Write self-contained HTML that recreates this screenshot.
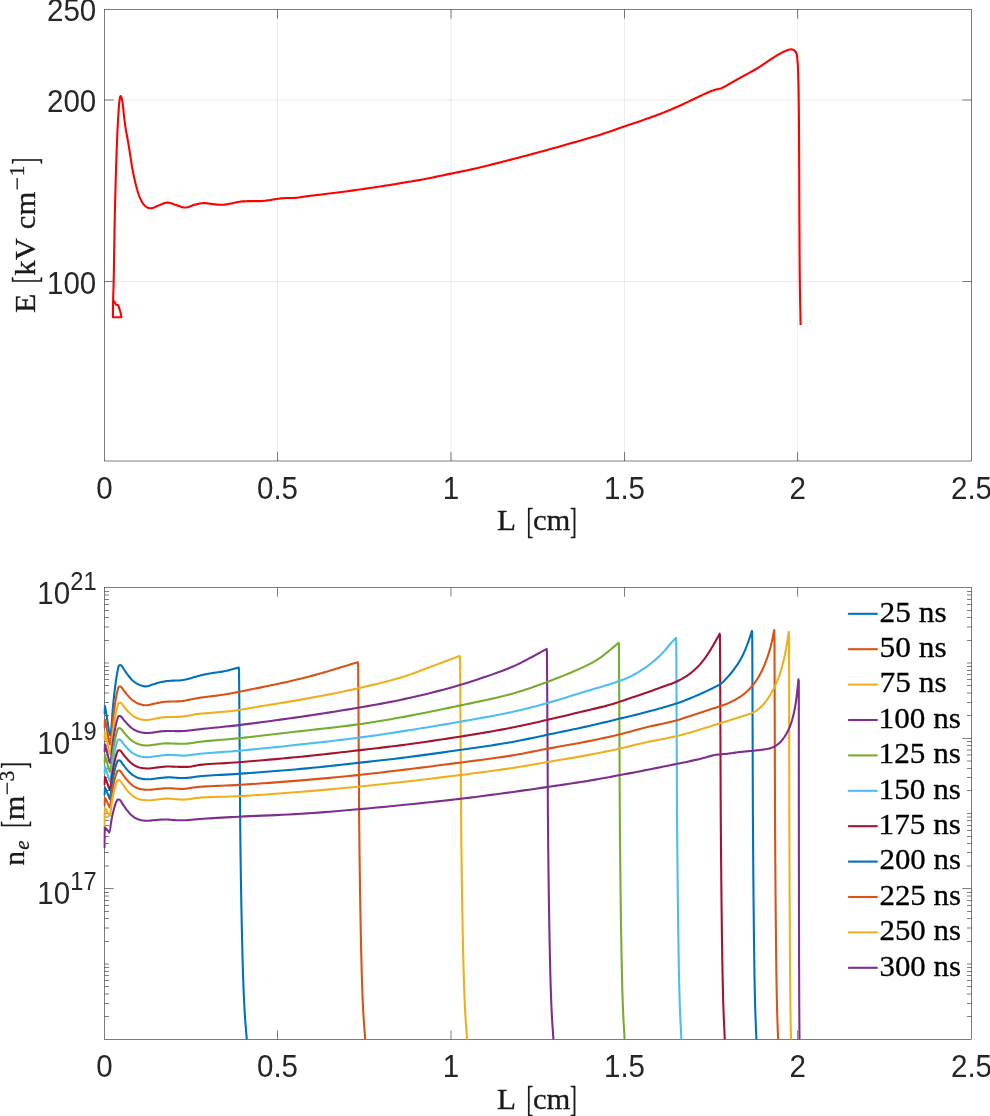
<!DOCTYPE html>
<html lang="en"><head><meta charset="utf-8"><title>Figure</title>
<style>html,body{margin:0;padding:0;background:#fff}svg{display:block}</style>
</head><body>
<svg width="990" height="1116" viewBox="0 0 990 1116">
<rect width="990" height="1116" fill="#fff"/>
<defs><clipPath id="cb"><rect x="103.30" y="587.50" width="869.40" height="452.30"/></clipPath></defs>
<g stroke="#262626" stroke-opacity="0.15" stroke-width="0.60" fill="none">
<line x1="277.50" y1="9.50" x2="277.50" y2="461.00"/>
<line x1="451.00" y1="9.50" x2="451.00" y2="461.00"/>
<line x1="624.50" y1="9.50" x2="624.50" y2="461.00"/>
<line x1="797.60" y1="9.50" x2="797.60" y2="461.00"/>
<line x1="104.50" y1="281.50" x2="971.50" y2="281.50"/>
<line x1="104.50" y1="100.00" x2="971.50" y2="100.00"/>
</g>
<g stroke="#262626" stroke-width="0.60" fill="none">
<rect x="104.50" y="9.50" width="867.00" height="451.50"/>
<rect x="104.50" y="587.50" width="867.00" height="452.00"/>
<path d="M277.50,461.00v-9.10M277.50,9.50v9.10"/>
<path d="M277.50,1039.50v-9.10M277.50,587.50v9.10"/>
<path d="M451.00,461.00v-9.10M451.00,9.50v9.10"/>
<path d="M451.00,1039.50v-9.10M451.00,587.50v9.10"/>
<path d="M624.50,461.00v-9.10M624.50,9.50v9.10"/>
<path d="M624.50,1039.50v-9.10M624.50,587.50v9.10"/>
<path d="M797.60,461.00v-9.10M797.60,9.50v9.10"/>
<path d="M797.60,1039.50v-9.10M797.60,587.50v9.10"/>
<path d="M104.50,281.50h9.10M971.50,281.50h-9.10"/>
<path d="M104.50,100.00h9.10M971.50,100.00h-9.10"/>
<path d="M104.50,1016.50h4.50M971.50,1016.50h-4.50"/>
<path d="M104.50,1003.50h4.50M971.50,1003.50h-4.50"/>
<path d="M104.50,994.00h4.50M971.50,994.00h-4.50"/>
<path d="M104.50,986.50h4.50M971.50,986.50h-4.50"/>
<path d="M104.50,980.50h4.50M971.50,980.50h-4.50"/>
<path d="M104.50,975.50h4.50M971.50,975.50h-4.50"/>
<path d="M104.50,971.50h4.50M971.50,971.50h-4.50"/>
<path d="M104.50,967.50h4.50M971.50,967.50h-4.50"/>
<path d="M104.50,964.00h4.50M971.50,964.00h-4.50"/>
<path d="M104.50,941.50h4.50M971.50,941.50h-4.50"/>
<path d="M104.50,928.00h4.50M971.50,928.00h-4.50"/>
<path d="M104.50,918.50h4.50M971.50,918.50h-4.50"/>
<path d="M104.50,911.50h4.50M971.50,911.50h-4.50"/>
<path d="M104.50,905.50h4.50M971.50,905.50h-4.50"/>
<path d="M104.50,900.50h4.50M971.50,900.50h-4.50"/>
<path d="M104.50,896.00h4.50M971.50,896.00h-4.50"/>
<path d="M104.50,892.50h4.50M971.50,892.50h-4.50"/>
<path d="M104.50,888.50h9.10M971.50,888.50h-9.10"/>
<path d="M104.50,866.00h4.50M971.50,866.00h-4.50"/>
<path d="M104.50,852.50h4.50M971.50,852.50h-4.50"/>
<path d="M104.50,843.50h4.50M971.50,843.50h-4.50"/>
<path d="M104.50,836.50h4.50M971.50,836.50h-4.50"/>
<path d="M104.50,830.50h4.50M971.50,830.50h-4.50"/>
<path d="M104.50,825.50h4.50M971.50,825.50h-4.50"/>
<path d="M104.50,820.50h4.50M971.50,820.50h-4.50"/>
<path d="M104.50,817.00h4.50M971.50,817.00h-4.50"/>
<path d="M104.50,813.50h4.50M971.50,813.50h-4.50"/>
<path d="M104.50,790.50h4.50M971.50,790.50h-4.50"/>
<path d="M104.50,777.50h4.50M971.50,777.50h-4.50"/>
<path d="M104.50,768.50h4.50M971.50,768.50h-4.50"/>
<path d="M104.50,761.00h4.50M971.50,761.00h-4.50"/>
<path d="M104.50,755.00h4.50M971.50,755.00h-4.50"/>
<path d="M104.50,750.00h4.50M971.50,750.00h-4.50"/>
<path d="M104.50,745.50h4.50M971.50,745.50h-4.50"/>
<path d="M104.50,741.50h4.50M971.50,741.50h-4.50"/>
<path d="M104.50,738.50h9.10M971.50,738.50h-9.10"/>
<path d="M104.50,715.50h4.50M971.50,715.50h-4.50"/>
<path d="M104.50,702.50h4.50M971.50,702.50h-4.50"/>
<path d="M104.50,693.00h4.50M971.50,693.00h-4.50"/>
<path d="M104.50,685.50h4.50M971.50,685.50h-4.50"/>
<path d="M104.50,679.50h4.50M971.50,679.50h-4.50"/>
<path d="M104.50,674.50h4.50M971.50,674.50h-4.50"/>
<path d="M104.50,670.50h4.50M971.50,670.50h-4.50"/>
<path d="M104.50,666.50h4.50M971.50,666.50h-4.50"/>
<path d="M104.50,663.00h4.50M971.50,663.00h-4.50"/>
<path d="M104.50,640.50h4.50M971.50,640.50h-4.50"/>
<path d="M104.50,627.00h4.50M971.50,627.00h-4.50"/>
<path d="M104.50,617.50h4.50M971.50,617.50h-4.50"/>
<path d="M104.50,610.50h4.50M971.50,610.50h-4.50"/>
<path d="M104.50,604.50h4.50M971.50,604.50h-4.50"/>
<path d="M104.50,599.50h4.50M971.50,599.50h-4.50"/>
<path d="M104.50,595.00h4.50M971.50,595.00h-4.50"/>
<path d="M104.50,591.50h4.50M971.50,591.50h-4.50"/>
</g>
<path d="M112.90,317.20 L121.50,317.20 L120.60,312.70 L119.40,308.80 L118.20,305.20 L115.80,304.40 L114.40,301.50 L113.10,301.70 L112.90,317.20 L112.92,315.66 L112.94,314.14 L112.95,312.63 L112.97,311.12 L112.98,309.61 L113.00,308.09 L113.02,306.54 L113.04,304.97 L113.07,303.36 L113.10,301.70 L113.14,299.73 L113.19,297.78 L113.25,295.82 L113.31,293.83 L113.37,291.79 L113.44,289.68 L113.51,287.47 L113.57,285.13 L113.64,282.65 L113.70,280.00 L113.80,274.98 L113.90,269.40 L114.00,263.36 L114.09,256.95 L114.19,250.26 L114.30,243.39 L114.41,236.44 L114.53,229.49 L114.66,222.65 L114.80,216.00 L114.96,209.09 L115.14,201.96 L115.32,194.70 L115.52,187.38 L115.72,180.09 L115.93,172.91 L116.15,165.93 L116.36,159.23 L116.58,152.89 L116.80,147.00 L116.95,143.15 L117.10,139.41 L117.26,135.77 L117.41,132.26 L117.57,128.87 L117.73,125.62 L117.89,122.49 L118.06,119.51 L118.23,116.68 L118.40,114.00 L118.51,112.32 L118.62,110.68 L118.72,109.09 L118.83,107.56 L118.94,106.09 L119.05,104.70 L119.17,103.38 L119.30,102.16 L119.45,101.03 L119.60,100.00 L119.69,99.46 L119.78,98.92 L119.87,98.37 L119.96,97.85 L120.06,97.36 L120.16,96.93 L120.26,96.56 L120.37,96.27 L120.48,96.08 L120.60,96.00 L120.68,96.02 L120.77,96.09 L120.86,96.20 L120.96,96.35 L121.05,96.52 L121.15,96.72 L121.24,96.94 L121.33,97.16 L121.42,97.38 L121.50,97.60 L121.62,97.95 L121.74,98.33 L121.84,98.73 L121.94,99.15 L122.03,99.61 L122.12,100.09 L122.21,100.61 L122.30,101.17 L122.40,101.76 L122.50,102.40 L122.73,103.97 L122.96,105.82 L123.19,107.91 L123.43,110.17 L123.68,112.57 L123.94,115.05 L124.21,117.56 L124.49,120.06 L124.79,122.49 L125.10,124.80 L125.44,127.05 L125.80,129.30 L126.18,131.55 L126.58,133.80 L126.99,136.05 L127.40,138.30 L127.81,140.55 L128.22,142.80 L128.62,145.05 L129.00,147.30 L129.37,149.55 L129.72,151.82 L130.07,154.10 L130.42,156.39 L130.76,158.67 L131.11,160.93 L131.46,163.17 L131.83,165.39 L132.21,167.57 L132.60,169.70 L132.97,171.60 L133.34,173.49 L133.72,175.36 L134.11,177.22 L134.50,179.06 L134.91,180.86 L135.32,182.62 L135.74,184.33 L136.16,186.00 L136.60,187.60 L136.95,188.85 L137.30,190.07 L137.65,191.27 L138.00,192.44 L138.36,193.58 L138.74,194.69 L139.12,195.77 L139.53,196.81 L139.95,197.82 L140.40,198.80 L140.78,199.59 L141.17,200.37 L141.57,201.13 L141.98,201.87 L142.40,202.59 L142.83,203.27 L143.29,203.92 L143.77,204.53 L144.27,205.09 L144.80,205.60 L145.29,206.01 L145.80,206.41 L146.32,206.78 L146.87,207.12 L147.43,207.43 L148.00,207.70 L148.59,207.93 L149.18,208.11 L149.79,208.23 L150.40,208.30 L151.13,208.28 L151.87,208.16 L152.64,207.95 L153.43,207.68 L154.22,207.35 L155.03,206.99 L155.84,206.62 L156.66,206.25 L157.48,205.90 L158.30,205.60 L159.18,205.28 L160.06,204.92 L160.96,204.53 L161.86,204.14 L162.76,203.76 L163.67,203.41 L164.58,203.09 L165.49,202.85 L166.40,202.68 L167.30,202.60 L168.19,202.63 L169.08,202.75 L169.96,202.96 L170.85,203.22 L171.74,203.52 L172.63,203.85 L173.52,204.19 L174.41,204.52 L175.30,204.83 L176.20,205.10 L177.11,205.37 L178.02,205.67 L178.94,205.99 L179.86,206.31 L180.77,206.63 L181.69,206.91 L182.62,207.16 L183.54,207.35 L184.47,207.47 L185.40,207.50 L186.37,207.43 L187.35,207.25 L188.33,206.99 L189.32,206.67 L190.31,206.31 L191.30,205.93 L192.28,205.54 L193.26,205.18 L194.23,204.86 L195.20,204.60 L196.09,204.39 L196.98,204.19 L197.86,203.99 L198.74,203.80 L199.62,203.62 L200.49,203.46 L201.37,203.33 L202.24,203.22 L203.12,203.14 L204.00,203.10 L204.88,203.10 L205.76,203.15 L206.64,203.23 L207.51,203.34 L208.39,203.46 L209.27,203.60 L210.15,203.74 L211.04,203.88 L211.92,204.00 L212.80,204.10 L213.69,204.19 L214.58,204.29 L215.47,204.39 L216.36,204.49 L217.25,204.59 L218.14,204.67 L219.03,204.74 L219.92,204.79 L220.81,204.81 L221.70,204.80 L222.58,204.76 L223.46,204.69 L224.33,204.60 L225.20,204.49 L226.07,204.36 L226.94,204.22 L227.82,204.07 L228.71,203.91 L229.60,203.75 L230.50,203.60 L231.48,203.42 L232.48,203.22 L233.48,203.01 L234.49,202.78 L235.50,202.55 L236.52,202.33 L237.54,202.11 L238.56,201.92 L239.58,201.74 L240.60,201.60 L241.61,201.49 L242.61,201.40 L243.62,201.33 L244.63,201.27 L245.64,201.23 L246.66,201.19 L247.67,201.17 L248.68,201.14 L249.69,201.12 L250.70,201.10 L251.72,201.08 L252.74,201.08 L253.78,201.09 L254.81,201.11 L255.84,201.13 L256.86,201.15 L257.88,201.16 L258.87,201.15 L259.85,201.14 L260.80,201.10 L261.60,201.05 L262.38,201.00 L263.14,200.93 L263.88,200.86 L264.62,200.78 L265.36,200.69 L266.10,200.60 L266.85,200.51 L267.62,200.40 L268.40,200.30 L269.30,200.17 L270.21,200.03 L271.14,199.88 L272.08,199.71 L273.02,199.55 L273.97,199.38 L274.92,199.22 L275.86,199.07 L276.79,198.93 L277.70,198.80 L278.54,198.69 L279.37,198.59 L280.19,198.50 L281.01,198.41 L281.82,198.33 L282.64,198.25 L283.46,198.18 L284.29,198.11 L285.14,198.05 L286.00,198.00 L286.98,197.96 L287.97,197.93 L288.98,197.93 L290.01,197.93 L291.04,197.94 L292.08,197.94 L293.11,197.93 L294.15,197.91 L295.18,197.87 L296.20,197.80 L297.21,197.70 L298.19,197.58 L299.17,197.44 L300.15,197.29 L301.13,197.13 L302.12,196.96 L303.12,196.79 L304.15,196.62 L305.21,196.45 L306.30,196.30 L307.68,196.12 L309.09,195.94 L310.54,195.77 L312.02,195.59 L313.52,195.42 L315.06,195.24 L316.61,195.06 L318.19,194.88 L319.79,194.69 L321.40,194.50 L323.30,194.27 L325.25,194.03 L327.25,193.79 L329.27,193.55 L331.32,193.30 L333.38,193.04 L335.45,192.79 L337.51,192.53 L339.57,192.26 L341.60,192.00 L343.62,191.73 L345.64,191.46 L347.66,191.19 L349.68,190.91 L351.70,190.63 L353.72,190.35 L355.74,190.06 L357.76,189.78 L359.78,189.49 L361.80,189.20 L363.82,188.91 L365.84,188.62 L367.86,188.32 L369.88,188.03 L371.90,187.73 L373.92,187.43 L375.94,187.13 L377.96,186.82 L379.98,186.51 L382.00,186.20 L384.02,185.88 L386.02,185.56 L388.02,185.24 L390.02,184.92 L392.03,184.59 L394.03,184.26 L396.05,183.93 L398.08,183.59 L400.13,183.25 L402.20,182.90 L404.42,182.53 L406.65,182.16 L408.89,181.79 L411.15,181.42 L413.43,181.04 L415.71,180.66 L418.01,180.26 L420.33,179.86 L422.66,179.44 L425.00,179.00 L427.55,178.51 L430.16,177.99 L432.80,177.45 L435.46,176.89 L438.13,176.33 L440.79,175.76 L443.42,175.20 L446.01,174.65 L448.54,174.11 L451.00,173.60 L453.05,173.18 L455.04,172.78 L456.98,172.39 L458.88,172.01 L460.77,171.64 L462.66,171.26 L464.56,170.87 L466.49,170.47 L468.46,170.05 L470.50,169.60 L472.90,169.06 L475.36,168.49 L477.86,167.90 L480.39,167.30 L482.96,166.68 L485.53,166.05 L488.12,165.41 L490.70,164.77 L493.26,164.13 L495.80,163.50 L498.32,162.87 L500.85,162.23 L503.37,161.59 L505.89,160.94 L508.41,160.29 L510.92,159.64 L513.44,158.98 L515.96,158.32 L518.48,157.66 L521.00,157.00 L523.53,156.33 L526.06,155.66 L528.59,154.99 L531.12,154.31 L533.65,153.64 L536.19,152.96 L538.72,152.27 L541.25,151.58 L543.77,150.89 L546.30,150.20 L548.82,149.50 L551.35,148.80 L553.87,148.10 L556.39,147.39 L558.90,146.68 L561.42,145.97 L563.94,145.25 L566.46,144.54 L568.98,143.82 L571.50,143.10 L574.02,142.38 L576.54,141.68 L579.06,140.97 L581.57,140.27 L584.09,139.56 L586.61,138.84 L589.14,138.11 L591.68,137.36 L594.23,136.59 L596.80,135.80 L599.54,134.93 L602.32,134.02 L605.12,133.08 L607.93,132.13 L610.75,131.16 L613.56,130.18 L616.36,129.21 L619.12,128.25 L621.83,127.31 L624.50,126.40 L626.88,125.59 L629.25,124.79 L631.60,124.00 L633.92,123.21 L636.23,122.43 L638.50,121.66 L640.75,120.89 L642.97,120.13 L645.15,119.36 L647.30,118.60 L649.18,117.92 L651.06,117.25 L652.91,116.57 L654.75,115.90 L656.55,115.23 L658.33,114.57 L660.07,113.91 L661.76,113.26 L663.41,112.63 L665.00,112.00 L666.22,111.51 L667.38,111.05 L668.50,110.59 L669.58,110.15 L670.65,109.70 L671.71,109.25 L672.78,108.79 L673.88,108.32 L675.01,107.82 L676.20,107.30 L677.70,106.63 L679.24,105.93 L680.82,105.20 L682.44,104.45 L684.07,103.68 L685.72,102.90 L687.38,102.12 L689.03,101.34 L690.68,100.56 L692.30,99.80 L693.95,99.02 L695.65,98.21 L697.38,97.38 L699.12,96.54 L700.84,95.72 L702.53,94.91 L704.16,94.14 L705.71,93.43 L707.17,92.77 L708.50,92.20 L709.26,91.88 L709.97,91.59 L710.65,91.32 L711.29,91.07 L711.92,90.84 L712.53,90.62 L713.13,90.41 L713.74,90.20 L714.36,90.00 L715.00,89.80 L715.63,89.62 L716.25,89.47 L716.87,89.34 L717.49,89.22 L718.11,89.10 L718.74,88.98 L719.37,88.83 L720.03,88.66 L720.70,88.45 L721.40,88.20 L722.42,87.77 L723.48,87.26 L724.59,86.68 L725.72,86.06 L726.88,85.39 L728.05,84.71 L729.23,84.01 L730.40,83.32 L731.56,82.64 L732.70,82.00 L733.83,81.38 L734.95,80.75 L736.07,80.13 L737.18,79.51 L738.30,78.88 L739.42,78.25 L740.55,77.62 L741.69,76.99 L742.84,76.35 L744.00,75.70 L745.26,75.00 L746.55,74.31 L747.84,73.61 L749.15,72.91 L750.47,72.20 L751.78,71.49 L753.10,70.76 L754.41,70.02 L755.71,69.27 L757.00,68.50 L758.31,67.68 L759.63,66.83 L760.95,65.96 L762.27,65.07 L763.58,64.17 L764.88,63.28 L766.17,62.39 L767.44,61.53 L768.68,60.70 L769.90,59.90 L770.93,59.24 L771.95,58.58 L772.96,57.94 L773.95,57.30 L774.94,56.68 L775.90,56.08 L776.86,55.50 L777.79,54.94 L778.71,54.40 L779.60,53.90 L780.30,53.52 L780.98,53.14 L781.65,52.78 L782.32,52.43 L782.97,52.10 L783.61,51.78 L784.24,51.48 L784.87,51.20 L785.49,50.94 L786.10,50.70 L786.61,50.51 L787.11,50.32 L787.61,50.14 L788.10,49.97 L788.59,49.82 L789.07,49.68 L789.55,49.57 L790.01,49.48 L790.46,49.42 L790.90,49.40 L791.25,49.40 L791.60,49.42 L791.94,49.45 L792.28,49.50 L792.61,49.57 L792.93,49.65 L793.24,49.76 L793.54,49.88 L793.83,50.03 L794.10,50.20 L794.39,50.41 L794.66,50.65 L794.92,50.91 L795.17,51.20 L795.40,51.51 L795.63,51.85 L795.84,52.21 L796.04,52.58 L796.22,52.98 L796.40,53.40 L796.63,54.08 L796.82,54.82 L796.98,55.63 L797.10,56.48 L797.21,57.38 L797.29,58.31 L797.37,59.28 L797.44,60.27 L797.52,61.28 L797.60,62.30 L797.71,63.71 L797.81,65.20 L797.90,66.74 L797.97,68.33 L798.04,69.96 L798.09,71.63 L798.15,73.33 L798.20,75.05 L798.25,76.77 L798.30,78.50 L798.36,80.47 L798.41,82.46 L798.46,84.48 L798.50,86.52 L798.53,88.59 L798.57,90.69 L798.60,92.83 L798.64,95.01 L798.67,97.23 L798.70,99.50 L798.74,102.22 L798.77,104.87 L798.80,107.51 L798.83,110.18 L798.86,112.95 L798.89,115.87 L798.91,118.97 L798.94,122.33 L798.97,125.99 L799.00,130.00 L799.07,140.80 L799.13,154.14 L799.20,169.42 L799.27,186.03 L799.34,203.38 L799.41,220.86 L799.49,237.87 L799.58,253.79 L799.68,268.04 L799.80,280.00 L799.87,285.57 L799.94,290.68 L800.02,295.43 L800.10,299.89 L800.18,304.14 L800.27,308.26 L800.35,312.33 L800.44,316.42 L800.52,320.62 L800.60,325.00" fill="none" stroke="#ff0000" stroke-width="2.1" stroke-linejoin="round" stroke-linecap="butt"/>
<g clip-path="url(#cb)" fill="none" stroke-width="2.1" stroke-linejoin="round">
<path d="M104.50,714.00 L104.60,712.00 L104.90,706.00 L105.01,706.58 L105.12,707.14 L105.23,707.70 L105.34,708.26 L105.44,708.82 L105.55,709.39 L105.66,709.97 L105.77,710.57 L105.89,711.19 L106.00,711.84 L106.15,712.75 L106.31,713.70 L106.46,714.70 L106.62,715.72 L106.78,716.77 L106.94,717.84 L107.11,718.90 L107.27,719.97 L107.44,721.03 L107.60,722.06 L107.76,723.11 L107.93,724.21 L108.09,725.33 L108.25,726.45 L108.42,727.57 L108.59,728.65 L108.76,729.68 L108.93,730.64 L109.11,731.51 L109.30,732.28 L109.41,732.68 L109.52,733.08 L109.63,733.49 L109.75,733.88 L109.87,734.24 L109.98,734.56 L110.09,734.83 L110.20,735.03 L110.30,735.16 L110.40,735.20 L110.53,735.07 L110.65,734.72 L110.76,734.20 L110.86,733.53 L110.95,732.74 L111.04,731.87 L111.12,730.94 L111.21,730.00 L111.29,729.07 L111.38,728.19 L111.51,726.82 L111.63,725.34 L111.75,723.76 L111.86,722.10 L111.97,720.38 L112.08,718.63 L112.19,716.87 L112.30,715.11 L112.42,713.39 L112.56,711.72 L112.69,710.09 L112.84,708.46 L112.98,706.83 L113.13,705.20 L113.29,703.58 L113.44,701.95 L113.61,700.33 L113.77,698.70 L113.95,697.08 L114.12,695.45 L114.31,693.80 L114.50,692.11 L114.70,690.41 L114.91,688.69 L115.12,686.99 L115.33,685.31 L115.54,683.67 L115.76,682.09 L115.97,680.56 L116.18,679.12 L116.34,678.08 L116.50,677.05 L116.66,676.06 L116.82,675.08 L116.98,674.14 L117.15,673.22 L117.31,672.34 L117.47,671.50 L117.64,670.70 L117.80,669.94 L117.90,669.43 L118.00,668.93 L118.09,668.43 L118.18,667.94 L118.27,667.48 L118.37,667.05 L118.48,666.65 L118.61,666.29 L118.76,665.98 L118.93,665.73 L119.03,665.61 L119.15,665.50 L119.27,665.41 L119.40,665.33 L119.53,665.26 L119.67,665.21 L119.80,665.16 L119.94,665.13 L120.07,665.11 L120.20,665.10 L120.33,665.10 L120.46,665.12 L120.59,665.15 L120.73,665.19 L120.86,665.24 L120.99,665.31 L121.12,665.38 L121.25,665.46 L121.38,665.54 L121.50,665.63 L121.65,665.77 L121.80,665.92 L121.95,666.10 L122.09,666.29 L122.22,666.49 L122.36,666.69 L122.49,666.91 L122.63,667.13 L122.76,667.34 L122.90,667.55 L123.05,667.78 L123.19,668.00 L123.33,668.23 L123.46,668.46 L123.60,668.69 L123.74,668.93 L123.89,669.18 L124.05,669.44 L124.22,669.71 L124.40,670.00 L124.72,670.48 L125.08,671.01 L125.46,671.58 L125.87,672.17 L126.30,672.78 L126.74,673.39 L127.18,674.01 L127.63,674.61 L128.07,675.20 L128.50,675.75 L128.90,676.25 L129.30,676.75 L129.70,677.25 L130.10,677.74 L130.51,678.23 L130.92,678.70 L131.33,679.16 L131.75,679.60 L132.17,680.03 L132.60,680.44 L132.99,680.79 L133.37,681.12 L133.77,681.45 L134.16,681.76 L134.56,682.06 L134.96,682.36 L135.37,682.64 L135.77,682.91 L136.19,683.17 L136.60,683.42 L136.99,683.65 L137.39,683.86 L137.79,684.07 L138.19,684.27 L138.59,684.45 L139.00,684.63 L139.41,684.80 L139.83,684.97 L140.26,685.12 L140.70,685.27 L141.19,685.43 L141.69,685.60 L142.19,685.76 L142.70,685.92 L143.22,686.06 L143.75,686.19 L144.30,686.29 L144.85,686.36 L145.42,686.40 L146.00,686.40 L146.77,686.33 L147.57,686.18 L148.39,685.97 L149.23,685.71 L150.09,685.41 L150.96,685.10 L151.84,684.77 L152.73,684.46 L153.62,684.16 L154.50,683.90 L155.45,683.64 L156.42,683.38 L157.40,683.11 L158.39,682.85 L159.39,682.58 L160.38,682.33 L161.36,682.10 L162.33,681.87 L163.28,681.67 L164.20,681.50 L164.96,681.37 L165.70,681.26 L166.43,681.16 L167.14,681.08 L167.84,681.00 L168.55,680.93 L169.26,680.87 L169.99,680.81 L170.73,680.76 L171.50,680.70 L172.42,680.64 L173.37,680.61 L174.35,680.58 L175.35,680.57 L176.35,680.55 L177.36,680.53 L178.35,680.51 L179.33,680.46 L180.28,680.39 L181.20,680.30 L181.98,680.20 L182.73,680.08 L183.47,679.95 L184.20,679.81 L184.92,679.65 L185.64,679.49 L186.35,679.33 L187.06,679.15 L187.78,678.98 L188.50,678.80 L189.23,678.61 L189.96,678.41 L190.70,678.21 L191.43,677.99 L192.16,677.78 L192.89,677.56 L193.61,677.34 L194.34,677.12 L195.07,676.91 L195.80,676.70 L196.52,676.50 L197.22,676.30 L197.93,676.11 L198.63,675.91 L199.33,675.72 L200.04,675.53 L200.76,675.34 L201.49,675.16 L202.23,674.98 L203.00,674.80 L203.91,674.60 L204.84,674.41 L205.80,674.22 L206.77,674.03 L207.75,673.85 L208.75,673.67 L209.74,673.50 L210.73,673.33 L211.72,673.16 L212.70,673.00 L213.68,672.85 L214.66,672.70 L215.65,672.57 L216.65,672.43 L217.64,672.30 L218.62,672.17 L219.59,672.04 L220.55,671.90 L221.49,671.76 L222.40,671.60 L223.17,671.46 L223.92,671.31 L224.65,671.16 L225.36,671.01 L226.07,670.85 L226.78,670.69 L227.49,670.53 L228.21,670.36 L228.94,670.18 L229.70,670.00 L230.57,669.79 L231.45,669.56 L232.35,669.33 L233.25,669.09 L234.17,668.84 L235.09,668.59 L236.01,668.34 L236.93,668.09 L237.84,667.84 L238.75,667.60 L238.77,667.72 L238.79,667.84 L238.81,667.95 L238.84,668.07 L238.86,668.18 L238.88,668.30 L238.90,668.42 L238.92,668.54 L238.94,668.67 L238.95,668.80 L238.96,668.95 L238.97,669.09 L238.98,669.23 L238.98,669.36 L238.99,669.51 L238.99,669.67 L238.99,669.85 L238.99,670.06 L239.00,670.31 L239.00,670.60 L239.05,674.23 L239.11,680.30 L239.19,688.36 L239.27,697.96 L239.35,708.65 L239.45,719.99 L239.54,731.53 L239.62,742.81 L239.71,753.39 L239.78,762.83 L239.84,770.56 L239.89,778.20 L239.94,785.75 L239.99,793.22 L240.03,800.60 L240.08,807.92 L240.13,815.17 L240.19,822.36 L240.25,829.51 L240.33,836.61 L240.40,843.12 L240.48,849.61 L240.57,856.06 L240.66,862.46 L240.75,868.81 L240.85,875.08 L240.95,881.28 L241.05,887.39 L241.16,893.41 L241.26,899.32 L241.35,904.40 L241.45,909.42 L241.55,914.38 L241.64,919.27 L241.74,924.09 L241.84,928.85 L241.95,933.55 L242.05,938.19 L242.16,942.76 L242.28,947.27 L242.38,951.18 L242.47,955.03 L242.57,958.83 L242.67,962.58 L242.78,966.28 L242.89,969.94 L243.00,973.55 L243.11,977.13 L243.24,980.66 L243.37,984.16 L243.49,987.26 L243.61,990.31 L243.73,993.32 L243.86,996.30 L244.00,999.25 L244.13,1002.17 L244.28,1005.07 L244.43,1007.96 L244.60,1010.82 L244.77,1013.68 L244.95,1016.33 L245.13,1018.95 L245.33,1021.55 L245.53,1024.13 L245.74,1026.70 L245.96,1029.25 L246.17,1031.81 L246.38,1034.36 L246.59,1036.93 L246.80,1039.50" stroke="#0072BD"/>
<path d="M104.50,727.60 L104.60,725.60 L104.90,719.60 L105.01,720.09 L105.12,720.58 L105.23,721.06 L105.34,721.53 L105.44,722.01 L105.55,722.50 L105.66,723.00 L105.77,723.51 L105.89,724.04 L106.00,724.60 L106.15,725.38 L106.31,726.19 L106.46,727.04 L106.62,727.92 L106.78,728.82 L106.94,729.73 L107.11,730.65 L107.27,731.56 L107.44,732.46 L107.60,733.35 L107.77,734.25 L107.93,735.19 L108.10,736.15 L108.27,737.11 L108.43,738.06 L108.60,738.99 L108.78,739.87 L108.95,740.70 L109.12,741.44 L109.30,742.10 L109.40,742.44 L109.50,742.79 L109.61,743.13 L109.71,743.47 L109.81,743.78 L109.92,744.05 L110.02,744.28 L110.12,744.46 L110.21,744.57 L110.30,744.60 L110.42,744.49 L110.53,744.20 L110.64,743.77 L110.74,743.21 L110.83,742.56 L110.92,741.84 L111.00,741.07 L111.09,740.29 L111.17,739.52 L111.26,738.79 L111.39,737.66 L111.51,736.43 L111.62,735.12 L111.73,733.74 L111.84,732.32 L111.94,730.87 L112.05,729.41 L112.16,727.95 L112.28,726.52 L112.41,725.14 L112.55,723.78 L112.69,722.43 L112.83,721.08 L112.98,719.74 L113.13,718.39 L113.28,717.04 L113.44,715.70 L113.60,714.35 L113.77,713.00 L113.95,711.66 L114.13,710.29 L114.32,708.89 L114.51,707.47 L114.72,706.05 L114.92,704.64 L115.13,703.25 L115.34,701.89 L115.55,700.58 L115.76,699.31 L115.96,698.12 L116.12,697.26 L116.28,696.41 L116.43,695.58 L116.59,694.77 L116.75,693.99 L116.91,693.23 L117.07,692.50 L117.23,691.80 L117.39,691.14 L117.55,690.51 L117.65,690.09 L117.75,689.67 L117.84,689.26 L117.93,688.86 L118.03,688.47 L118.12,688.11 L118.23,687.78 L118.36,687.49 L118.49,687.23 L118.65,687.02 L118.76,686.92 L118.87,686.83 L118.99,686.75 L119.12,686.68 L119.25,686.62 L119.38,686.58 L119.51,686.55 L119.64,686.52 L119.77,686.51 L119.90,686.50 L120.03,686.50 L120.16,686.52 L120.29,686.54 L120.43,686.58 L120.56,686.62 L120.69,686.68 L120.82,686.74 L120.95,686.81 L121.08,686.89 L121.20,686.97 L121.35,687.09 L121.50,687.23 L121.64,687.38 L121.78,687.55 L121.92,687.72 L122.05,687.91 L122.19,688.10 L122.33,688.29 L122.46,688.48 L122.60,688.66 L122.75,688.86 L122.89,689.06 L123.03,689.26 L123.16,689.46 L123.30,689.67 L123.44,689.88 L123.59,690.10 L123.75,690.33 L123.92,690.57 L124.10,690.82 L124.42,691.25 L124.78,691.72 L125.17,692.22 L125.58,692.74 L126.00,693.28 L126.44,693.82 L126.88,694.37 L127.33,694.90 L127.77,695.41 L128.20,695.90 L128.60,696.35 L129.00,696.79 L129.40,697.23 L129.81,697.66 L130.22,698.09 L130.63,698.51 L131.04,698.91 L131.46,699.30 L131.88,699.68 L132.30,700.04 L132.69,700.35 L133.08,700.65 L133.47,700.93 L133.87,701.21 L134.27,701.48 L134.67,701.73 L135.07,701.98 L135.48,702.22 L135.89,702.45 L136.30,702.67 L136.70,702.87 L137.09,703.06 L137.49,703.25 L137.88,703.42 L138.29,703.58 L138.69,703.74 L139.10,703.89 L139.53,704.04 L139.96,704.17 L140.40,704.30 L140.91,704.45 L141.44,704.60 L141.97,704.74 L142.51,704.87 L143.07,704.99 L143.63,705.10 L144.20,705.19 L144.79,705.25 L145.39,705.29 L146.00,705.30 L146.78,705.26 L147.58,705.17 L148.40,705.02 L149.25,704.85 L150.10,704.65 L150.97,704.43 L151.85,704.20 L152.73,703.99 L153.62,703.78 L154.50,703.60 L155.45,703.42 L156.42,703.23 L157.40,703.04 L158.40,702.85 L159.39,702.66 L160.38,702.48 L161.37,702.31 L162.33,702.15 L163.28,702.02 L164.20,701.90 L164.96,701.82 L165.71,701.75 L166.43,701.70 L167.14,701.66 L167.85,701.63 L168.55,701.60 L169.26,701.58 L169.99,701.56 L170.73,701.53 L171.50,701.50 L172.42,701.47 L173.37,701.45 L174.35,701.44 L175.35,701.43 L176.35,701.42 L177.36,701.40 L178.35,701.38 L179.33,701.34 L180.28,701.28 L181.20,701.20 L181.97,701.11 L182.73,701.00 L183.47,700.88 L184.20,700.75 L184.92,700.62 L185.63,700.47 L186.35,700.33 L187.06,700.18 L187.78,700.04 L188.50,699.90 L189.23,699.76 L189.96,699.62 L190.69,699.48 L191.42,699.34 L192.15,699.19 L192.88,699.05 L193.61,698.91 L194.34,698.77 L195.07,698.63 L195.80,698.50 L196.52,698.37 L197.22,698.25 L197.93,698.12 L198.63,698.00 L199.33,697.88 L200.04,697.76 L200.76,697.64 L201.49,697.53 L202.24,697.41 L203.00,697.30 L203.91,697.17 L204.85,697.05 L205.80,696.93 L206.77,696.81 L207.76,696.69 L208.75,696.58 L209.74,696.46 L210.74,696.34 L211.72,696.22 L212.70,696.10 L213.68,695.97 L214.66,695.85 L215.65,695.72 L216.65,695.59 L217.64,695.46 L218.62,695.33 L219.59,695.20 L220.55,695.07 L221.49,694.93 L222.40,694.80 L223.17,694.68 L223.92,694.57 L224.64,694.46 L225.36,694.34 L226.07,694.23 L226.77,694.11 L227.49,693.99 L228.21,693.87 L228.94,693.74 L229.70,693.60 L230.57,693.44 L231.45,693.27 L232.34,693.10 L233.24,692.92 L234.15,692.74 L235.07,692.55 L236.00,692.36 L236.93,692.17 L237.86,691.99 L238.80,691.80 L239.80,691.60 L240.81,691.41 L241.83,691.21 L242.86,691.01 L243.89,690.81 L244.93,690.61 L245.97,690.41 L247.01,690.21 L248.06,690.01 L249.10,689.80 L250.15,689.59 L251.17,689.39 L252.18,689.19 L253.18,688.99 L254.19,688.79 L255.24,688.58 L256.32,688.36 L257.47,688.12 L258.69,687.87 L260.00,687.60 L262.40,687.10 L265.05,686.56 L267.91,685.97 L270.94,685.34 L274.08,684.69 L277.30,684.01 L280.54,683.31 L283.77,682.61 L286.94,681.90 L290.00,681.20 L293.03,680.49 L296.11,679.75 L299.21,679.00 L302.31,678.23 L305.40,677.45 L308.45,676.67 L311.46,675.89 L314.40,675.12 L317.25,674.35 L320.00,673.60 L322.17,672.99 L324.29,672.38 L326.34,671.77 L328.36,671.17 L330.33,670.57 L332.28,669.97 L334.22,669.37 L336.14,668.78 L338.07,668.19 L340.00,667.60 L341.83,667.05 L343.64,666.50 L345.43,665.96 L347.21,665.42 L348.99,664.88 L350.76,664.35 L352.53,663.81 L354.30,663.28 L356.07,662.74 L357.85,662.20 L357.87,662.32 L357.89,662.44 L357.91,662.55 L357.94,662.67 L357.96,662.78 L357.98,662.90 L358.00,663.02 L358.02,663.14 L358.04,663.27 L358.05,663.40 L358.06,663.55 L358.07,663.69 L358.08,663.83 L358.08,663.96 L358.09,664.11 L358.09,664.27 L358.09,664.45 L358.09,664.66 L358.10,664.91 L358.10,665.20 L358.15,668.87 L358.21,675.02 L358.27,683.20 L358.35,692.94 L358.43,703.79 L358.51,715.30 L358.59,727.01 L358.67,738.46 L358.74,749.20 L358.81,758.78 L358.86,766.63 L358.91,774.38 L358.95,782.04 L359.00,789.61 L359.04,797.11 L359.08,804.53 L359.13,811.89 L359.18,819.19 L359.24,826.43 L359.31,833.63 L359.38,840.25 L359.45,846.83 L359.53,853.37 L359.61,859.87 L359.70,866.31 L359.78,872.68 L359.88,878.97 L359.97,885.17 L360.06,891.27 L360.16,897.27 L360.24,902.42 L360.33,907.52 L360.42,912.54 L360.51,917.51 L360.60,922.40 L360.69,927.23 L360.78,932.00 L360.88,936.71 L360.98,941.35 L361.08,945.92 L361.17,949.89 L361.26,953.79 L361.35,957.65 L361.45,961.45 L361.54,965.21 L361.64,968.92 L361.74,972.59 L361.85,976.22 L361.96,979.80 L362.08,983.36 L362.19,986.49 L362.30,989.59 L362.41,992.65 L362.53,995.67 L362.65,998.66 L362.77,1001.63 L362.91,1004.57 L363.05,1007.49 L363.20,1010.40 L363.35,1013.30 L363.51,1015.99 L363.68,1018.65 L363.86,1021.29 L364.05,1023.91 L364.24,1026.51 L364.43,1029.10 L364.63,1031.70 L364.82,1034.29 L365.01,1036.89 L365.20,1039.50" stroke="#D95319"/>
<path d="M104.50,740.40 L104.60,738.40 L104.90,732.40 L105.01,732.83 L105.12,733.24 L105.23,733.66 L105.34,734.07 L105.44,734.48 L105.55,734.90 L105.66,735.33 L105.77,735.78 L105.89,736.24 L106.00,736.72 L106.15,737.39 L106.31,738.10 L106.46,738.83 L106.62,739.59 L106.78,740.37 L106.94,741.15 L107.11,741.95 L107.27,742.73 L107.44,743.51 L107.60,744.28 L107.77,745.06 L107.93,745.87 L108.10,746.70 L108.27,747.53 L108.44,748.36 L108.61,749.16 L108.78,749.92 L108.95,750.63 L109.12,751.27 L109.30,751.84 L109.40,752.14 L109.50,752.44 L109.61,752.74 L109.71,753.03 L109.82,753.29 L109.92,753.53 L110.02,753.73 L110.12,753.88 L110.21,753.97 L110.30,754.00 L110.42,753.90 L110.53,753.65 L110.64,753.26 L110.73,752.77 L110.82,752.19 L110.91,751.56 L111.00,750.88 L111.08,750.20 L111.16,749.52 L111.25,748.87 L111.38,747.87 L111.50,746.78 L111.61,745.63 L111.71,744.41 L111.82,743.16 L111.92,741.88 L112.03,740.59 L112.14,739.30 L112.26,738.04 L112.39,736.81 L112.52,735.62 L112.66,734.43 L112.80,733.24 L112.95,732.05 L113.10,730.86 L113.25,729.67 L113.41,728.48 L113.57,727.29 L113.74,726.10 L113.91,724.91 L114.09,723.70 L114.28,722.47 L114.47,721.22 L114.67,719.96 L114.87,718.72 L115.08,717.49 L115.28,716.29 L115.49,715.13 L115.70,714.01 L115.90,712.96 L116.06,712.20 L116.21,711.45 L116.37,710.71 L116.53,710.00 L116.68,709.31 L116.84,708.64 L117.00,708.00 L117.16,707.38 L117.31,706.80 L117.47,706.24 L117.58,705.87 L117.67,705.50 L117.77,705.13 L117.86,704.78 L117.95,704.44 L118.05,704.13 L118.16,703.83 L118.28,703.57 L118.41,703.35 L118.56,703.16 L118.67,703.06 L118.78,702.98 L118.90,702.91 L119.03,702.85 L119.15,702.80 L119.28,702.77 L119.41,702.74 L119.54,702.72 L119.67,702.71 L119.80,702.70 L119.93,702.70 L120.06,702.72 L120.19,702.74 L120.32,702.77 L120.46,702.81 L120.59,702.86 L120.72,702.92 L120.85,702.99 L120.98,703.06 L121.10,703.13 L121.25,703.24 L121.40,703.37 L121.54,703.51 L121.68,703.67 L121.82,703.83 L121.95,704.00 L122.09,704.18 L122.23,704.35 L122.36,704.53 L122.50,704.70 L122.65,704.89 L122.79,705.07 L122.93,705.26 L123.06,705.44 L123.20,705.64 L123.34,705.83 L123.49,706.04 L123.65,706.25 L123.82,706.47 L124.00,706.70 L124.32,707.10 L124.68,707.53 L125.07,707.99 L125.48,708.48 L125.90,708.98 L126.34,709.48 L126.79,709.98 L127.23,710.47 L127.67,710.95 L128.10,711.40 L128.50,711.81 L128.90,712.22 L129.31,712.63 L129.71,713.03 L130.12,713.43 L130.53,713.81 L130.94,714.19 L131.36,714.55 L131.78,714.90 L132.20,715.23 L132.59,715.52 L132.98,715.79 L133.37,716.06 L133.77,716.32 L134.17,716.56 L134.57,716.80 L134.97,717.03 L135.38,717.25 L135.79,717.46 L136.20,717.66 L136.60,717.85 L136.99,718.03 L137.39,718.20 L137.78,718.36 L138.19,718.51 L138.59,718.66 L139.00,718.80 L139.43,718.93 L139.86,719.06 L140.30,719.18 L140.83,719.31 L141.37,719.45 L141.92,719.57 L142.49,719.69 L143.06,719.80 L143.64,719.90 L144.23,719.98 L144.82,720.04 L145.41,720.08 L146.00,720.10 L146.63,720.09 L147.26,720.05 L147.90,719.99 L148.54,719.90 L149.18,719.80 L149.83,719.69 L150.49,719.57 L151.15,719.44 L151.82,719.32 L152.50,719.20 L153.28,719.06 L154.07,718.90 L154.87,718.73 L155.68,718.56 L156.50,718.38 L157.32,718.20 L158.14,718.03 L158.97,717.87 L159.79,717.72 L160.60,717.60 L161.40,717.50 L162.20,717.41 L163.00,717.33 L163.80,717.27 L164.60,717.21 L165.39,717.16 L166.20,717.11 L167.00,717.07 L167.80,717.04 L168.60,717.00 L169.41,716.97 L170.22,716.95 L171.04,716.95 L171.86,716.94 L172.67,716.95 L173.49,716.95 L174.30,716.95 L175.11,716.94 L175.91,716.93 L176.70,716.90 L177.45,716.87 L178.20,716.84 L178.94,716.80 L179.68,716.76 L180.42,716.71 L181.15,716.66 L181.88,716.61 L182.59,716.55 L183.30,716.48 L184.00,716.40 L184.63,716.32 L185.24,716.24 L185.85,716.14 L186.45,716.05 L187.05,715.95 L187.64,715.84 L188.23,715.73 L188.82,715.62 L189.41,715.51 L190.00,715.40 L190.57,715.29 L191.12,715.17 L191.65,715.05 L192.18,714.92 L192.71,714.80 L193.26,714.67 L193.84,714.55 L194.44,714.43 L195.09,714.31 L195.80,714.20 L197.13,714.02 L198.61,713.86 L200.21,713.70 L201.92,713.55 L203.69,713.41 L205.51,713.27 L207.35,713.13 L209.17,712.99 L210.97,712.85 L212.70,712.70 L214.42,712.55 L216.18,712.40 L217.96,712.25 L219.75,712.11 L221.53,711.96 L223.28,711.81 L224.99,711.66 L226.64,711.51 L228.21,711.36 L229.70,711.20 L230.71,711.09 L231.64,710.98 L232.52,710.87 L233.36,710.77 L234.19,710.66 L235.03,710.55 L235.88,710.43 L236.79,710.30 L237.75,710.16 L238.80,710.00 L240.53,709.73 L242.37,709.43 L244.29,709.11 L246.31,708.77 L248.41,708.40 L250.60,708.02 L252.85,707.63 L255.17,707.22 L257.56,706.81 L260.00,706.40 L263.53,705.82 L267.25,705.21 L271.13,704.59 L275.16,703.95 L279.30,703.29 L283.55,702.60 L287.87,701.89 L292.25,701.15 L296.67,700.39 L301.10,699.60 L306.43,698.63 L311.95,697.62 L317.63,696.56 L323.40,695.47 L329.24,694.35 L335.09,693.20 L340.91,692.03 L346.67,690.83 L352.31,689.62 L357.80,688.40 L362.78,687.26 L367.78,686.08 L372.79,684.88 L377.75,683.67 L382.65,682.43 L387.45,681.19 L392.12,679.94 L396.62,678.69 L400.92,677.44 L405.00,676.20 L407.83,675.29 L410.50,674.38 L413.05,673.48 L415.50,672.57 L417.89,671.66 L420.25,670.75 L422.61,669.83 L425.00,668.90 L427.45,667.95 L430.00,667.00 L432.87,665.94 L435.78,664.86 L438.74,663.77 L441.71,662.67 L444.71,661.56 L447.73,660.45 L450.74,659.33 L453.76,658.22 L456.76,657.10 L459.75,656.00 L459.77,656.12 L459.79,656.24 L459.81,656.35 L459.84,656.47 L459.86,656.58 L459.88,656.70 L459.90,656.82 L459.92,656.94 L459.94,657.07 L459.95,657.20 L459.96,657.35 L459.97,657.49 L459.98,657.63 L459.98,657.76 L459.99,657.91 L459.99,658.07 L459.99,658.25 L459.99,658.46 L460.00,658.71 L460.00,659.00 L460.05,662.72 L460.11,668.96 L460.17,677.27 L460.25,687.17 L460.33,698.21 L460.41,709.91 L460.49,721.82 L460.57,733.47 L460.64,744.39 L460.71,754.12 L460.76,762.11 L460.81,769.99 L460.85,777.77 L460.90,785.47 L460.94,793.09 L460.98,800.64 L461.03,808.12 L461.08,815.54 L461.14,822.90 L461.21,830.23 L461.28,836.95 L461.35,843.64 L461.43,850.29 L461.51,856.89 L461.60,863.44 L461.68,869.91 L461.78,876.31 L461.87,882.61 L461.96,888.82 L462.06,894.91 L462.14,900.15 L462.23,905.33 L462.32,910.44 L462.41,915.48 L462.50,920.46 L462.59,925.37 L462.68,930.22 L462.78,935.00 L462.88,939.72 L462.98,944.38 L463.07,948.40 L463.16,952.37 L463.25,956.29 L463.35,960.16 L463.44,963.98 L463.54,967.75 L463.64,971.48 L463.75,975.17 L463.86,978.81 L463.98,982.42 L464.09,985.62 L464.20,988.76 L464.31,991.87 L464.43,994.94 L464.55,997.99 L464.67,1001.00 L464.81,1003.99 L464.95,1006.96 L465.10,1009.92 L465.25,1012.86 L465.41,1015.60 L465.58,1018.31 L465.76,1020.99 L465.95,1023.65 L466.14,1026.29 L466.33,1028.93 L466.53,1031.57 L466.72,1034.20 L466.91,1036.84 L467.10,1039.50" stroke="#EDB120"/>
<path d="M104.50,752.40 L104.60,750.40 L104.90,744.40 L105.01,744.77 L105.12,745.12 L105.23,745.48 L105.34,745.83 L105.44,746.18 L105.55,746.54 L105.66,746.91 L105.77,747.29 L105.89,747.69 L106.00,748.10 L106.15,748.67 L106.31,749.28 L106.46,749.91 L106.62,750.56 L106.78,751.22 L106.94,751.90 L107.11,752.58 L107.27,753.25 L107.44,753.92 L107.60,754.57 L107.77,755.24 L107.94,755.94 L108.11,756.65 L108.28,757.36 L108.45,758.07 L108.62,758.75 L108.79,759.40 L108.96,760.01 L109.13,760.57 L109.30,761.05 L109.39,761.30 L109.49,761.56 L109.58,761.82 L109.67,762.07 L109.77,762.30 L109.86,762.50 L109.95,762.67 L110.03,762.80 L110.12,762.88 L110.20,762.90 L110.32,762.81 L110.42,762.57 L110.53,762.22 L110.62,761.77 L110.71,761.25 L110.80,760.67 L110.89,760.05 L110.97,759.42 L111.05,758.80 L111.14,758.21 L111.27,757.30 L111.38,756.30 L111.49,755.25 L111.60,754.13 L111.70,752.99 L111.81,751.82 L111.91,750.64 L112.02,749.46 L112.14,748.31 L112.27,747.19 L112.40,746.10 L112.54,745.01 L112.68,743.92 L112.82,742.83 L112.97,741.74 L113.12,740.65 L113.28,739.57 L113.44,738.48 L113.60,737.39 L113.77,736.31 L113.95,735.20 L114.14,734.07 L114.33,732.93 L114.52,731.78 L114.72,730.64 L114.93,729.52 L115.13,728.42 L115.34,727.36 L115.54,726.34 L115.75,725.38 L115.90,724.68 L116.05,724.00 L116.21,723.33 L116.36,722.67 L116.52,722.04 L116.67,721.43 L116.83,720.84 L116.98,720.28 L117.14,719.74 L117.30,719.24 L117.40,718.90 L117.50,718.56 L117.59,718.22 L117.68,717.90 L117.78,717.59 L117.88,717.30 L117.98,717.04 L118.10,716.80 L118.23,716.59 L118.38,716.42 L118.48,716.33 L118.60,716.25 L118.71,716.19 L118.84,716.13 L118.96,716.09 L119.09,716.06 L119.22,716.03 L119.35,716.01 L119.47,716.00 L119.60,716.00 L119.73,716.00 L119.86,716.02 L119.99,716.04 L120.12,716.07 L120.26,716.11 L120.39,716.16 L120.52,716.22 L120.65,716.28 L120.78,716.35 L120.90,716.42 L121.05,716.53 L121.19,716.66 L121.34,716.79 L121.48,716.94 L121.62,717.10 L121.75,717.27 L121.89,717.44 L122.03,717.62 L122.16,717.79 L122.30,717.96 L122.45,718.14 L122.59,718.32 L122.73,718.50 L122.86,718.68 L123.00,718.87 L123.14,719.06 L123.29,719.26 L123.45,719.47 L123.62,719.68 L123.80,719.91 L124.12,720.30 L124.48,720.72 L124.87,721.17 L125.28,721.65 L125.70,722.13 L126.14,722.62 L126.59,723.11 L127.03,723.60 L127.47,724.06 L127.90,724.50 L128.30,724.90 L128.70,725.31 L129.11,725.70 L129.51,726.10 L129.92,726.48 L130.33,726.86 L130.74,727.22 L131.16,727.58 L131.58,727.92 L132.00,728.24 L132.39,728.52 L132.78,728.79 L133.18,729.05 L133.57,729.31 L133.97,729.55 L134.37,729.78 L134.77,730.00 L135.18,730.22 L135.59,730.42 L136.00,730.62 L136.40,730.80 L136.79,730.98 L137.19,731.14 L137.58,731.30 L137.98,731.45 L138.39,731.59 L138.80,731.73 L139.22,731.86 L139.65,731.98 L140.10,732.10 L140.64,732.23 L141.20,732.36 L141.77,732.47 L142.36,732.58 L142.96,732.68 L143.56,732.77 L144.17,732.85 L144.78,732.91 L145.39,732.96 L146.00,733.00 L146.63,733.02 L147.27,733.02 L147.90,733.00 L148.54,732.97 L149.19,732.93 L149.83,732.87 L150.49,732.81 L151.15,732.74 L151.82,732.67 L152.50,732.60 L153.28,732.51 L154.07,732.40 L154.87,732.27 L155.68,732.14 L156.50,732.00 L157.32,731.86 L158.14,731.73 L158.97,731.60 L159.79,731.49 L160.60,731.40 L161.40,731.33 L162.20,731.26 L163.00,731.21 L163.80,731.16 L164.60,731.12 L165.40,731.09 L166.20,731.06 L167.00,731.04 L167.80,731.02 L168.60,731.00 L169.41,730.99 L170.22,730.99 L171.04,731.00 L171.86,731.01 L172.67,731.03 L173.49,731.05 L174.30,731.07 L175.11,731.09 L175.91,731.10 L176.70,731.10 L177.45,731.10 L178.20,731.10 L178.94,731.10 L179.68,731.10 L180.42,731.10 L181.15,731.09 L181.88,731.08 L182.59,731.06 L183.30,731.03 L184.00,731.00 L184.62,730.96 L185.21,730.92 L185.80,730.86 L186.37,730.81 L186.94,730.75 L187.52,730.68 L188.11,730.62 L188.71,730.55 L189.34,730.47 L190.00,730.40 L190.87,730.30 L191.73,730.20 L192.61,730.09 L193.50,729.98 L194.43,729.87 L195.41,729.75 L196.44,729.62 L197.54,729.49 L198.72,729.35 L200.00,729.20 L202.82,728.89 L206.01,728.56 L209.51,728.21 L213.29,727.83 L217.30,727.43 L221.47,727.01 L225.77,726.57 L230.14,726.10 L234.53,725.61 L238.90,725.10 L244.55,724.41 L250.46,723.66 L256.59,722.87 L262.88,722.04 L269.28,721.18 L275.74,720.30 L282.20,719.40 L288.62,718.50 L294.94,717.59 L301.10,716.70 L306.90,715.85 L312.70,714.99 L318.48,714.12 L324.23,713.24 L329.95,712.36 L335.63,711.46 L341.27,710.56 L346.84,709.65 L352.36,708.73 L357.80,707.80 L362.69,706.96 L367.48,706.13 L372.19,705.30 L376.85,704.47 L381.49,703.63 L386.11,702.76 L390.75,701.86 L395.43,700.93 L400.17,699.94 L405.00,698.90 L410.32,697.71 L415.72,696.49 L421.18,695.21 L426.69,693.90 L432.21,692.54 L437.75,691.14 L443.27,689.69 L448.77,688.21 L454.22,686.67 L459.60,685.10 L464.96,683.47 L470.46,681.75 L476.03,679.96 L481.61,678.11 L487.11,676.24 L492.48,674.37 L497.63,672.51 L502.50,670.70 L507.01,668.96 L511.10,667.30 L513.40,666.32 L515.55,665.36 L517.55,664.42 L519.45,663.50 L521.27,662.58 L523.02,661.68 L524.75,660.77 L526.47,659.86 L528.21,658.94 L530.00,658.00 L531.72,657.10 L533.41,656.20 L535.09,655.29 L536.75,654.38 L538.40,653.47 L540.05,652.55 L541.69,651.64 L543.34,650.72 L544.99,649.81 L546.65,648.90 L546.67,649.02 L546.69,649.14 L546.71,649.25 L546.74,649.37 L546.76,649.48 L546.78,649.60 L546.80,649.72 L546.82,649.84 L546.84,649.97 L546.85,650.10 L546.86,650.25 L546.87,650.39 L546.88,650.53 L546.88,650.66 L546.89,650.81 L546.89,650.96 L546.89,651.15 L546.89,651.36 L546.90,651.61 L546.90,651.90 L546.95,655.67 L547.00,662.02 L547.06,670.48 L547.13,680.57 L547.20,691.82 L547.28,703.75 L547.35,715.88 L547.42,727.75 L547.49,738.88 L547.55,748.80 L547.60,756.93 L547.64,764.96 L547.68,772.89 L547.72,780.73 L547.76,788.49 L547.80,796.18 L547.84,803.80 L547.89,811.36 L547.94,818.86 L548.00,826.32 L548.07,833.17 L548.14,839.98 L548.21,846.76 L548.28,853.49 L548.36,860.15 L548.44,866.75 L548.53,873.26 L548.61,879.68 L548.70,886.00 L548.78,892.21 L548.86,897.55 L548.94,902.83 L549.02,908.03 L549.10,913.17 L549.19,918.24 L549.27,923.24 L549.36,928.18 L549.45,933.05 L549.54,937.86 L549.63,942.60 L549.71,946.70 L549.80,950.75 L549.88,954.74 L549.96,958.68 L550.05,962.57 L550.14,966.41 L550.23,970.21 L550.33,973.97 L550.43,977.68 L550.54,981.36 L550.64,984.61 L550.74,987.82 L550.85,990.98 L550.95,994.11 L551.06,997.21 L551.18,1000.28 L551.30,1003.33 L551.43,1006.36 L551.56,1009.37 L551.71,1012.37 L551.86,1015.16 L552.01,1017.91 L552.17,1020.64 L552.34,1023.35 L552.52,1026.05 L552.70,1028.73 L552.87,1031.42 L553.05,1034.10 L553.23,1036.80 L553.40,1039.50" stroke="#7E2F8E"/>
<path d="M104.50,763.40 L104.60,761.40 L104.90,755.40 L105.01,755.73 L105.12,756.05 L105.23,756.37 L105.34,756.68 L105.44,757.00 L105.55,757.32 L105.66,757.65 L105.77,757.99 L105.89,758.35 L106.00,758.72 L106.15,759.23 L106.31,759.78 L106.46,760.34 L106.62,760.93 L106.78,761.52 L106.94,762.13 L107.11,762.74 L107.27,763.34 L107.44,763.94 L107.60,764.53 L107.77,765.13 L107.94,765.75 L108.11,766.39 L108.29,767.03 L108.46,767.66 L108.64,768.28 L108.81,768.86 L108.98,769.41 L109.14,769.91 L109.30,770.34 L109.38,770.57 L109.47,770.80 L109.55,771.03 L109.63,771.25 L109.72,771.46 L109.80,771.64 L109.87,771.79 L109.95,771.91 L110.03,771.98 L110.10,772.00 L110.21,771.91 L110.31,771.70 L110.41,771.37 L110.51,770.95 L110.60,770.46 L110.69,769.91 L110.77,769.33 L110.86,768.75 L110.95,768.16 L111.03,767.61 L111.15,766.76 L111.27,765.83 L111.38,764.84 L111.48,763.80 L111.59,762.72 L111.69,761.62 L111.79,760.52 L111.90,759.42 L112.02,758.34 L112.15,757.29 L112.28,756.27 L112.41,755.25 L112.55,754.23 L112.69,753.21 L112.84,752.19 L112.99,751.18 L113.14,750.16 L113.30,749.14 L113.47,748.13 L113.63,747.11 L113.81,746.07 L113.99,745.01 L114.18,743.94 L114.38,742.87 L114.58,741.81 L114.78,740.76 L114.98,739.73 L115.18,738.73 L115.39,737.78 L115.59,736.88 L115.74,736.23 L115.89,735.58 L116.04,734.96 L116.20,734.35 L116.35,733.75 L116.50,733.18 L116.66,732.63 L116.81,732.11 L116.97,731.60 L117.12,731.13 L117.22,730.81 L117.32,730.49 L117.41,730.18 L117.51,729.88 L117.60,729.59 L117.70,729.32 L117.80,729.07 L117.92,728.85 L118.05,728.65 L118.19,728.50 L118.30,728.41 L118.41,728.33 L118.52,728.27 L118.64,728.22 L118.77,728.18 L118.89,728.15 L119.02,728.13 L119.15,728.11 L119.28,728.10 L119.40,728.10 L119.53,728.11 L119.66,728.12 L119.79,728.14 L119.92,728.18 L120.06,728.22 L120.19,728.27 L120.32,728.32 L120.45,728.39 L120.58,728.46 L120.70,728.54 L120.85,728.64 L121.00,728.77 L121.14,728.91 L121.28,729.07 L121.42,729.23 L121.55,729.40 L121.69,729.58 L121.83,729.75 L121.96,729.93 L122.10,730.10 L122.25,730.29 L122.39,730.47 L122.53,730.66 L122.66,730.84 L122.80,731.04 L122.94,731.23 L123.09,731.44 L123.25,731.65 L123.42,731.87 L123.60,732.10 L123.92,732.50 L124.28,732.93 L124.67,733.39 L125.08,733.88 L125.50,734.38 L125.94,734.88 L126.39,735.38 L126.83,735.87 L127.27,736.35 L127.70,736.80 L128.10,737.21 L128.50,737.62 L128.91,738.03 L129.31,738.43 L129.72,738.83 L130.13,739.21 L130.54,739.59 L130.96,739.95 L131.38,740.30 L131.80,740.63 L132.19,740.92 L132.58,741.19 L132.97,741.46 L133.37,741.72 L133.77,741.96 L134.17,742.20 L134.57,742.43 L134.98,742.65 L135.39,742.86 L135.80,743.06 L136.20,743.25 L136.59,743.43 L136.97,743.60 L137.37,743.76 L137.76,743.92 L138.16,744.06 L138.57,744.20 L139.00,744.33 L139.44,744.46 L139.90,744.58 L140.51,744.72 L141.15,744.86 L141.81,744.99 L142.49,745.11 L143.19,745.21 L143.90,745.30 L144.62,745.38 L145.35,745.44 L146.08,745.48 L146.80,745.50 L147.59,745.49 L148.38,745.45 L149.19,745.38 L150.00,745.29 L150.82,745.19 L151.64,745.07 L152.47,744.95 L153.31,744.82 L154.15,744.71 L155.00,744.60 L155.93,744.48 L156.87,744.35 L157.81,744.21 L158.77,744.07 L159.73,743.93 L160.69,743.79 L161.67,743.67 L162.64,743.56 L163.62,743.47 L164.60,743.40 L165.63,743.36 L166.66,743.35 L167.71,743.35 L168.76,743.37 L169.82,743.41 L170.87,743.45 L171.92,743.49 L172.96,743.54 L173.99,743.57 L175.00,743.60 L175.93,743.62 L176.87,743.65 L177.81,743.69 L178.73,743.72 L179.66,743.75 L180.56,743.78 L181.46,743.81 L182.33,743.82 L183.18,743.82 L184.00,743.80 L184.64,743.78 L185.25,743.75 L185.84,743.71 L186.42,743.67 L186.98,743.62 L187.55,743.57 L188.13,743.51 L188.72,743.45 L189.34,743.38 L190.00,743.30 L190.87,743.19 L191.73,743.07 L192.61,742.93 L193.50,742.78 L194.43,742.62 L195.40,742.46 L196.44,742.30 L197.54,742.13 L198.72,741.96 L200.00,741.80 L202.82,741.48 L206.00,741.16 L209.51,740.84 L213.29,740.51 L217.29,740.16 L221.47,739.81 L225.76,739.44 L230.13,739.05 L234.53,738.64 L238.90,738.20 L244.55,737.60 L250.46,736.96 L256.59,736.28 L262.88,735.56 L269.28,734.82 L275.73,734.07 L282.20,733.31 L288.61,732.56 L294.93,731.82 L301.10,731.10 L306.90,730.44 L312.69,729.79 L318.47,729.14 L324.23,728.51 L329.95,727.86 L335.63,727.21 L341.27,726.55 L346.85,725.86 L352.36,725.15 L357.80,724.40 L362.69,723.69 L367.48,722.98 L372.19,722.25 L376.85,721.51 L381.48,720.74 L386.10,719.96 L390.74,719.16 L395.42,718.33 L400.17,717.48 L405.00,716.60 L410.31,715.61 L415.70,714.59 L421.15,713.53 L426.65,712.44 L432.17,711.33 L437.70,710.20 L443.23,709.05 L448.73,707.90 L454.19,706.75 L459.60,705.60 L464.86,704.49 L470.17,703.38 L475.49,702.27 L480.80,701.15 L486.08,700.02 L491.30,698.87 L496.44,697.70 L501.47,696.50 L506.36,695.27 L511.10,694.00 L514.94,692.91 L518.64,691.82 L522.23,690.72 L525.74,689.61 L529.19,688.47 L532.63,687.30 L536.06,686.10 L539.54,684.85 L543.07,683.55 L546.70,682.20 L550.92,680.59 L555.39,678.85 L560.02,677.01 L564.70,675.10 L569.35,673.17 L573.88,671.25 L578.19,669.38 L582.19,667.59 L585.79,665.92 L588.90,664.40 L590.33,663.67 L591.64,662.97 L592.84,662.31 L593.95,661.68 L595.00,661.06 L596.01,660.44 L596.99,659.81 L597.97,659.17 L598.97,658.50 L600.00,657.80 L601.04,657.07 L602.08,656.32 L603.10,655.55 L604.11,654.76 L605.11,653.97 L606.11,653.17 L607.09,652.37 L608.07,651.57 L609.04,650.78 L610.00,650.00 L610.90,649.27 L611.78,648.55 L612.65,647.83 L613.51,647.11 L614.37,646.39 L615.23,645.67 L616.08,644.96 L616.93,644.24 L617.79,643.52 L618.65,642.80 L618.67,642.92 L618.69,643.04 L618.71,643.15 L618.74,643.27 L618.76,643.38 L618.78,643.50 L618.80,643.62 L618.82,643.74 L618.84,643.87 L618.85,644.00 L618.86,644.15 L618.87,644.29 L618.88,644.43 L618.88,644.56 L618.89,644.71 L618.89,644.86 L618.89,645.05 L618.89,645.26 L618.90,645.51 L618.90,645.80 L618.94,649.62 L618.99,656.06 L619.05,664.65 L619.11,674.90 L619.17,686.33 L619.23,698.45 L619.30,710.78 L619.36,722.84 L619.42,734.15 L619.47,744.22 L619.51,752.48 L619.55,760.64 L619.59,768.69 L619.62,776.66 L619.65,784.54 L619.69,792.35 L619.73,800.09 L619.77,807.77 L619.82,815.39 L619.87,822.96 L619.92,829.92 L619.98,836.84 L620.05,843.73 L620.11,850.56 L620.18,857.33 L620.25,864.03 L620.33,870.65 L620.40,877.17 L620.48,883.59 L620.55,889.89 L620.62,895.32 L620.69,900.68 L620.76,905.96 L620.83,911.18 L620.90,916.33 L620.98,921.41 L621.05,926.43 L621.13,931.38 L621.21,936.26 L621.29,941.08 L621.37,945.24 L621.44,949.35 L621.51,953.40 L621.59,957.41 L621.66,961.36 L621.74,965.26 L621.82,969.12 L621.91,972.93 L622.00,976.71 L622.09,980.44 L622.18,983.75 L622.27,987.00 L622.36,990.22 L622.45,993.40 L622.55,996.54 L622.65,999.66 L622.76,1002.76 L622.87,1005.83 L622.99,1008.89 L623.12,1011.94 L623.25,1014.77 L623.38,1017.57 L623.53,1020.34 L623.67,1023.10 L623.83,1025.84 L623.98,1028.57 L624.14,1031.29 L624.30,1034.02 L624.45,1036.75 L624.60,1039.50" stroke="#77AC30"/>
<path d="M104.50,774.00 L104.60,772.00 L104.90,766.00 L105.01,766.31 L105.12,766.61 L105.23,766.90 L105.34,767.20 L105.44,767.49 L105.55,767.80 L105.66,768.10 L105.77,768.42 L105.89,768.75 L106.00,769.10 L106.15,769.58 L106.31,770.09 L106.46,770.61 L106.62,771.16 L106.78,771.72 L106.94,772.28 L107.11,772.85 L107.27,773.42 L107.44,773.98 L107.60,774.52 L107.77,775.08 L107.94,775.66 L108.12,776.26 L108.30,776.86 L108.48,777.45 L108.65,778.02 L108.83,778.57 L108.99,779.08 L109.15,779.54 L109.30,779.95 L109.38,780.16 L109.45,780.38 L109.52,780.59 L109.60,780.80 L109.67,780.99 L109.73,781.16 L109.80,781.30 L109.87,781.41 L109.93,781.48 L110.00,781.50 L110.10,781.42 L110.20,781.21 L110.30,780.90 L110.39,780.50 L110.48,780.03 L110.57,779.51 L110.66,778.96 L110.75,778.39 L110.84,777.84 L110.92,777.31 L111.04,776.49 L111.16,775.61 L111.27,774.66 L111.37,773.67 L111.47,772.64 L111.57,771.60 L111.68,770.54 L111.78,769.49 L111.90,768.46 L112.02,767.46 L112.15,766.49 L112.29,765.51 L112.42,764.54 L112.56,763.57 L112.71,762.60 L112.86,761.63 L113.01,760.65 L113.17,759.68 L113.33,758.71 L113.50,757.74 L113.67,756.75 L113.85,755.74 L114.04,754.72 L114.23,753.70 L114.43,752.68 L114.63,751.68 L114.83,750.70 L115.03,749.75 L115.23,748.84 L115.43,747.98 L115.58,747.36 L115.73,746.74 L115.88,746.14 L116.03,745.56 L116.18,745.00 L116.34,744.45 L116.49,743.93 L116.64,743.42 L116.79,742.94 L116.95,742.49 L117.05,742.19 L117.14,741.88 L117.24,741.59 L117.33,741.30 L117.42,741.02 L117.52,740.76 L117.62,740.53 L117.74,740.31 L117.86,740.13 L118.00,739.98 L118.11,739.89 L118.22,739.82 L118.33,739.76 L118.45,739.71 L118.57,739.67 L118.70,739.64 L118.83,739.62 L118.95,739.61 L119.08,739.60 L119.20,739.60 L119.33,739.61 L119.46,739.62 L119.59,739.65 L119.72,739.68 L119.86,739.72 L119.99,739.77 L120.12,739.83 L120.25,739.89 L120.38,739.96 L120.50,740.04 L120.65,740.15 L120.80,740.28 L120.94,740.42 L121.08,740.58 L121.22,740.74 L121.35,740.92 L121.49,741.09 L121.63,741.27 L121.76,741.45 L121.90,741.62 L122.05,741.81 L122.19,742.00 L122.33,742.18 L122.46,742.37 L122.60,742.57 L122.74,742.77 L122.89,742.97 L123.05,743.19 L123.22,743.41 L123.40,743.65 L123.72,744.05 L124.08,744.49 L124.47,744.96 L124.88,745.44 L125.30,745.95 L125.74,746.46 L126.19,746.96 L126.63,747.46 L127.07,747.94 L127.50,748.40 L127.90,748.82 L128.30,749.23 L128.71,749.65 L129.11,750.05 L129.52,750.45 L129.93,750.84 L130.34,751.22 L130.76,751.59 L131.18,751.94 L131.60,752.27 L131.99,752.56 L132.38,752.84 L132.77,753.11 L133.17,753.37 L133.57,753.62 L133.97,753.86 L134.37,754.09 L134.78,754.32 L135.19,754.53 L135.60,754.74 L135.99,754.93 L136.38,755.11 L136.77,755.28 L137.15,755.44 L137.54,755.60 L137.94,755.75 L138.35,755.89 L138.78,756.02 L139.23,756.15 L139.70,756.27 L140.38,756.42 L141.10,756.57 L141.86,756.70 L142.65,756.82 L143.46,756.93 L144.29,757.02 L145.13,757.10 L145.96,757.15 L146.79,757.19 L147.60,757.20 L148.42,757.18 L149.25,757.13 L150.07,757.05 L150.89,756.95 L151.71,756.83 L152.55,756.70 L153.39,756.57 L154.24,756.44 L155.11,756.31 L156.00,756.20 L157.04,756.07 L158.11,755.92 L159.21,755.77 L160.32,755.61 L161.44,755.45 L162.56,755.30 L163.69,755.17 L164.81,755.05 L165.91,754.96 L167.00,754.90 L168.03,754.88 L169.06,754.88 L170.09,754.90 L171.12,754.95 L172.14,755.00 L173.15,755.07 L174.14,755.13 L175.12,755.20 L176.07,755.25 L177.00,755.30 L177.75,755.34 L178.49,755.38 L179.21,755.42 L179.92,755.46 L180.61,755.51 L181.30,755.54 L181.98,755.58 L182.65,755.60 L183.33,755.61 L184.00,755.60 L184.61,755.58 L185.21,755.55 L185.79,755.52 L186.36,755.48 L186.94,755.42 L187.51,755.37 L188.10,755.31 L188.71,755.24 L189.34,755.17 L190.00,755.10 L190.87,755.00 L191.73,754.89 L192.61,754.77 L193.50,754.64 L194.43,754.51 L195.40,754.37 L196.44,754.23 L197.54,754.08 L198.72,753.94 L200.00,753.80 L202.82,753.53 L206.00,753.25 L209.51,752.98 L213.29,752.69 L217.29,752.40 L221.47,752.09 L225.76,751.77 L230.13,751.44 L234.53,751.08 L238.90,750.70 L244.55,750.18 L250.46,749.62 L256.59,749.02 L262.88,748.40 L269.28,747.75 L275.74,747.09 L282.20,746.42 L288.62,745.74 L294.93,745.07 L301.10,744.40 L306.90,743.77 L312.70,743.13 L318.47,742.49 L324.23,741.85 L329.95,741.20 L335.63,740.54 L341.26,739.87 L346.84,739.19 L352.36,738.50 L357.80,737.80 L362.68,737.15 L367.47,736.50 L372.18,735.84 L376.84,735.17 L381.47,734.49 L386.09,733.81 L390.73,733.11 L395.42,732.39 L400.16,731.65 L405.00,730.90 L410.31,730.06 L415.70,729.20 L421.15,728.32 L426.64,727.42 L432.16,726.51 L437.69,725.58 L443.22,724.64 L448.73,723.70 L454.19,722.75 L459.60,721.80 L464.86,720.87 L470.16,719.95 L475.47,719.01 L480.78,718.07 L486.06,717.12 L491.28,716.16 L496.42,715.19 L501.45,714.20 L506.35,713.21 L511.10,712.20 L514.92,711.35 L518.61,710.51 L522.20,709.67 L525.70,708.83 L529.16,707.97 L532.59,707.09 L536.03,706.20 L539.51,705.27 L543.06,704.30 L546.70,703.30 L550.85,702.12 L555.16,700.85 L559.57,699.52 L564.03,698.14 L568.50,696.75 L572.90,695.37 L577.20,694.02 L581.33,692.72 L585.25,691.51 L588.90,690.40 L591.34,689.67 L593.73,688.98 L596.06,688.31 L598.32,687.66 L600.50,687.03 L602.59,686.43 L604.60,685.85 L606.51,685.28 L608.31,684.73 L610.00,684.20 L611.01,683.87 L611.94,683.56 L612.82,683.26 L613.66,682.96 L614.46,682.67 L615.25,682.39 L616.03,682.10 L616.83,681.81 L617.65,681.51 L618.50,681.20 L619.44,680.87 L620.39,680.54 L621.34,680.21 L622.30,679.89 L623.27,679.55 L624.24,679.21 L625.22,678.84 L626.20,678.46 L627.20,678.04 L628.20,677.60 L629.38,677.04 L630.59,676.44 L631.81,675.81 L633.05,675.14 L634.29,674.46 L635.53,673.75 L636.76,673.04 L637.97,672.32 L639.15,671.61 L640.30,670.90 L641.33,670.25 L642.35,669.60 L643.34,668.95 L644.33,668.29 L645.30,667.63 L646.26,666.96 L647.21,666.28 L648.14,665.59 L649.08,664.90 L650.00,664.20 L650.90,663.51 L651.79,662.80 L652.67,662.08 L653.55,661.36 L654.42,660.63 L655.27,659.89 L656.11,659.16 L656.93,658.43 L657.73,657.71 L658.50,657.00 L659.16,656.39 L659.79,655.78 L660.41,655.18 L661.01,654.58 L661.60,653.99 L662.18,653.39 L662.76,652.78 L663.34,652.17 L663.91,651.54 L664.50,650.90 L665.12,650.20 L665.74,649.48 L666.35,648.74 L666.97,648.00 L667.58,647.24 L668.19,646.49 L668.79,645.75 L669.40,645.01 L670.00,644.29 L670.60,643.60 L671.14,642.99 L671.68,642.39 L672.22,641.80 L672.75,641.22 L673.29,640.65 L673.82,640.08 L674.35,639.51 L674.88,638.95 L675.42,638.38 L675.95,637.80 L675.97,637.92 L675.99,638.04 L676.01,638.15 L676.04,638.27 L676.06,638.38 L676.08,638.50 L676.10,638.62 L676.12,638.74 L676.14,638.87 L676.15,639.00 L676.16,639.15 L676.17,639.29 L676.18,639.43 L676.19,639.56 L676.19,639.70 L676.19,639.86 L676.19,640.05 L676.19,640.26 L676.20,640.51 L676.20,640.80 L676.24,644.66 L676.29,651.18 L676.34,659.87 L676.39,670.25 L676.45,681.82 L676.51,694.10 L676.56,706.60 L676.62,718.82 L676.67,730.27 L676.72,740.47 L676.76,748.84 L676.79,757.10 L676.83,765.25 L676.86,773.32 L676.89,781.31 L676.92,789.21 L676.95,797.05 L676.99,804.82 L677.03,812.54 L677.08,820.21 L677.13,827.26 L677.19,834.27 L677.25,841.24 L677.31,848.16 L677.37,855.02 L677.43,861.80 L677.50,868.50 L677.57,875.11 L677.64,881.61 L677.71,887.99 L677.77,893.49 L677.83,898.91 L677.90,904.27 L677.96,909.55 L678.03,914.77 L678.10,919.91 L678.17,924.99 L678.24,930.00 L678.31,934.95 L678.38,939.83 L678.45,944.04 L678.52,948.20 L678.58,952.31 L678.65,956.36 L678.72,960.36 L678.79,964.32 L678.86,968.23 L678.94,972.09 L679.03,975.91 L679.11,979.69 L679.19,983.04 L679.27,986.34 L679.36,989.59 L679.44,992.81 L679.53,996.00 L679.62,999.16 L679.72,1002.29 L679.82,1005.41 L679.93,1008.50 L680.05,1011.59 L680.16,1014.46 L680.29,1017.29 L680.42,1020.10 L680.56,1022.89 L680.70,1025.66 L680.84,1028.43 L680.98,1031.19 L681.12,1033.95 L681.26,1036.72 L681.40,1039.50" stroke="#4DBEEE"/>
<path d="M104.50,785.00 L104.60,783.00 L104.90,777.00 L105.01,777.26 L105.12,777.51 L105.23,777.76 L105.33,778.00 L105.44,778.25 L105.55,778.51 L105.66,778.76 L105.77,779.03 L105.89,779.31 L106.00,779.60 L106.15,780.00 L106.31,780.43 L106.46,780.87 L106.62,781.33 L106.78,781.79 L106.94,782.27 L107.11,782.75 L107.27,783.22 L107.44,783.69 L107.60,784.15 L107.77,784.62 L107.95,785.11 L108.13,785.60 L108.32,786.10 L108.51,786.60 L108.69,787.08 L108.86,787.54 L109.02,787.97 L109.17,788.36 L109.30,788.70 L109.36,788.87 L109.42,789.05 L109.47,789.23 L109.52,789.41 L109.57,789.57 L109.61,789.71 L109.66,789.83 L109.70,789.92 L109.75,789.98 L109.80,790.00 L109.89,789.93 L109.98,789.73 L110.08,789.44 L110.18,789.06 L110.27,788.61 L110.37,788.12 L110.47,787.59 L110.56,787.06 L110.65,786.53 L110.74,786.03 L110.87,785.26 L110.98,784.42 L111.09,783.52 L111.20,782.58 L111.30,781.61 L111.41,780.62 L111.51,779.62 L111.62,778.62 L111.74,777.65 L111.87,776.70 L112.00,775.78 L112.14,774.85 L112.28,773.93 L112.42,773.01 L112.57,772.09 L112.72,771.17 L112.88,770.25 L113.04,769.33 L113.20,768.41 L113.37,767.49 L113.55,766.55 L113.74,765.60 L113.93,764.63 L114.12,763.66 L114.32,762.69 L114.53,761.74 L114.73,760.81 L114.94,759.92 L115.14,759.06 L115.35,758.24 L115.50,757.65 L115.65,757.07 L115.81,756.50 L115.96,755.95 L116.12,755.41 L116.27,754.89 L116.43,754.40 L116.59,753.92 L116.74,753.47 L116.90,753.04 L117.00,752.75 L117.10,752.46 L117.20,752.18 L117.29,751.91 L117.39,751.65 L117.49,751.40 L117.60,751.18 L117.71,750.98 L117.84,750.80 L117.98,750.66 L118.08,750.57 L118.20,750.50 L118.32,750.45 L118.44,750.40 L118.56,750.36 L118.69,750.34 L118.82,750.32 L118.95,750.30 L119.07,750.30 L119.20,750.30 L119.33,750.31 L119.46,750.32 L119.59,750.35 L119.73,750.38 L119.86,750.43 L119.99,750.48 L120.12,750.54 L120.25,750.60 L120.38,750.67 L120.50,750.75 L120.65,750.87 L120.80,751.00 L120.94,751.15 L121.08,751.31 L121.22,751.48 L121.35,751.66 L121.49,751.84 L121.63,752.03 L121.76,752.21 L121.90,752.39 L122.05,752.59 L122.19,752.78 L122.33,752.97 L122.46,753.17 L122.60,753.37 L122.74,753.58 L122.89,753.79 L123.05,754.01 L123.22,754.24 L123.40,754.49 L123.72,754.90 L124.08,755.35 L124.47,755.84 L124.88,756.34 L125.30,756.86 L125.74,757.39 L126.19,757.92 L126.63,758.43 L127.07,758.93 L127.50,759.40 L127.90,759.83 L128.30,760.26 L128.70,760.69 L129.11,761.11 L129.52,761.52 L129.93,761.92 L130.34,762.32 L130.76,762.69 L131.18,763.06 L131.60,763.40 L131.99,763.71 L132.38,764.00 L132.77,764.27 L133.17,764.54 L133.57,764.80 L133.97,765.05 L134.37,765.29 L134.78,765.52 L135.19,765.74 L135.60,765.95 L135.99,766.15 L136.38,766.34 L136.76,766.51 L137.15,766.68 L137.54,766.84 L137.94,767.00 L138.35,767.14 L138.78,767.28 L139.23,767.41 L139.70,767.54 L140.38,767.69 L141.10,767.84 L141.86,767.98 L142.65,768.10 L143.46,768.21 L144.29,768.31 L145.13,768.39 L145.96,768.44 L146.79,768.48 L147.60,768.50 L148.42,768.49 L149.24,768.44 L150.06,768.37 L150.89,768.28 L151.71,768.17 L152.55,768.06 L153.39,767.93 L154.24,767.81 L155.11,767.70 L156.00,767.60 L157.04,767.49 L158.11,767.36 L159.21,767.23 L160.32,767.10 L161.44,766.96 L162.56,766.84 L163.69,766.73 L164.81,766.63 L165.91,766.55 L167.00,766.50 L168.03,766.48 L169.06,766.48 L170.09,766.50 L171.12,766.53 L172.14,766.58 L173.15,766.63 L174.14,766.68 L175.12,766.73 L176.07,766.77 L177.00,766.80 L177.75,766.82 L178.49,766.83 L179.21,766.85 L179.92,766.87 L180.61,766.88 L181.30,766.89 L181.98,766.90 L182.65,766.90 L183.33,766.90 L184.00,766.90 L184.61,766.90 L185.21,766.89 L185.79,766.89 L186.36,766.89 L186.94,766.88 L187.52,766.87 L188.11,766.84 L188.71,766.81 L189.34,766.76 L190.00,766.70 L190.87,766.59 L191.73,766.45 L192.61,766.28 L193.50,766.09 L194.43,765.89 L195.40,765.68 L196.43,765.47 L197.53,765.27 L198.72,765.08 L200.00,764.90 L202.81,764.59 L206.00,764.31 L209.51,764.06 L213.28,763.81 L217.29,763.57 L221.46,763.33 L225.76,763.08 L230.13,762.82 L234.53,762.52 L238.90,762.20 L244.55,761.75 L250.46,761.27 L256.59,760.76 L262.88,760.22 L269.28,759.67 L275.74,759.09 L282.20,758.51 L288.62,757.91 L294.93,757.31 L301.10,756.70 L306.90,756.11 L312.70,755.50 L318.47,754.88 L324.22,754.25 L329.94,753.61 L335.63,752.96 L341.26,752.32 L346.84,751.67 L352.35,751.03 L357.80,750.40 L362.68,749.84 L367.47,749.28 L372.17,748.74 L376.83,748.20 L381.46,747.65 L386.09,747.10 L390.73,746.53 L395.42,745.95 L400.16,745.34 L405.00,744.70 L410.31,743.98 L415.70,743.24 L421.15,742.48 L426.64,741.69 L432.16,740.89 L437.70,740.08 L443.22,739.25 L448.73,738.41 L454.19,737.56 L459.60,736.70 L464.86,735.86 L470.16,735.00 L475.47,734.13 L480.78,733.24 L486.05,732.35 L491.27,731.45 L496.41,730.54 L501.44,729.63 L506.35,728.71 L511.10,727.80 L514.92,727.04 L518.60,726.28 L522.18,725.53 L525.68,724.77 L529.14,724.00 L532.57,723.23 L536.02,722.45 L539.50,721.65 L543.05,720.83 L546.70,720.00 L550.84,719.05 L555.15,718.05 L559.56,717.02 L564.02,715.96 L568.49,714.90 L572.90,713.85 L577.20,712.82 L581.33,711.83 L585.25,710.88 L588.90,710.00 L591.31,709.42 L593.61,708.88 L595.82,708.36 L597.95,707.87 L600.02,707.38 L602.04,706.89 L604.03,706.40 L606.01,705.89 L607.99,705.36 L610.00,704.80 L611.88,704.24 L613.74,703.67 L615.58,703.08 L617.39,702.48 L619.20,701.87 L621.00,701.26 L622.79,700.64 L624.59,700.02 L626.39,699.41 L628.20,698.80 L630.02,698.20 L631.84,697.59 L633.67,696.99 L635.49,696.39 L637.31,695.79 L639.13,695.18 L640.95,694.57 L642.77,693.95 L644.59,693.33 L646.40,692.70 L648.23,692.05 L650.09,691.39 L651.97,690.71 L653.84,690.03 L655.71,689.34 L657.56,688.66 L659.37,687.99 L661.14,687.34 L662.85,686.71 L664.50,686.10 L665.76,685.64 L666.98,685.22 L668.17,684.82 L669.32,684.43 L670.46,684.04 L671.58,683.64 L672.70,683.23 L673.82,682.79 L674.95,682.32 L676.10,681.80 L677.38,681.19 L678.69,680.53 L680.00,679.84 L681.33,679.13 L682.64,678.38 L683.94,677.62 L685.22,676.85 L686.46,676.07 L687.66,675.28 L688.80,674.50 L689.75,673.82 L690.67,673.13 L691.57,672.44 L692.44,671.74 L693.28,671.03 L694.11,670.31 L694.92,669.58 L695.72,668.84 L696.51,668.08 L697.30,667.30 L698.08,666.51 L698.84,665.69 L699.59,664.87 L700.32,664.03 L701.05,663.17 L701.76,662.31 L702.46,661.44 L703.15,660.56 L703.83,659.68 L704.50,658.80 L705.16,657.92 L705.80,657.02 L706.44,656.12 L707.06,655.20 L707.67,654.28 L708.28,653.36 L708.87,652.44 L709.46,651.52 L710.03,650.61 L710.60,649.70 L711.13,648.84 L711.64,647.98 L712.15,647.13 L712.64,646.27 L713.13,645.41 L713.61,644.56 L714.09,643.71 L714.56,642.87 L715.03,642.03 L715.50,641.20 L715.94,640.43 L716.36,639.67 L716.79,638.92 L717.21,638.17 L717.62,637.42 L718.04,636.68 L718.45,635.94 L718.87,635.19 L719.28,634.45 L719.70,633.70 L719.72,633.82 L719.74,633.94 L719.76,634.05 L719.79,634.17 L719.81,634.28 L719.83,634.40 L719.85,634.52 L719.87,634.64 L719.89,634.77 L719.90,634.90 L719.91,635.05 L719.92,635.19 L719.93,635.33 L719.94,635.46 L719.94,635.60 L719.94,635.76 L719.94,635.95 L719.94,636.16 L719.95,636.41 L719.95,636.70 L719.99,640.59 L720.04,647.17 L720.08,655.95 L720.14,666.44 L720.19,678.13 L720.24,690.54 L720.29,703.17 L720.34,715.52 L720.39,727.09 L720.44,737.40 L720.47,745.85 L720.50,754.19 L720.53,762.43 L720.56,770.58 L720.59,778.65 L720.62,786.64 L720.65,794.56 L720.69,802.41 L720.73,810.21 L720.77,817.96 L720.82,825.07 L720.87,832.16 L720.93,839.20 L720.98,846.19 L721.04,853.12 L721.10,859.97 L721.16,866.74 L721.23,873.42 L721.29,879.98 L721.36,886.44 L721.41,891.99 L721.47,897.47 L721.53,902.88 L721.59,908.22 L721.66,913.49 L721.72,918.69 L721.78,923.82 L721.85,928.88 L721.92,933.87 L721.99,938.80 L722.05,943.06 L722.11,947.27 L722.17,951.41 L722.24,955.51 L722.30,959.55 L722.37,963.54 L722.44,967.49 L722.51,971.40 L722.58,975.26 L722.67,979.08 L722.74,982.46 L722.82,985.79 L722.89,989.08 L722.97,992.33 L723.06,995.55 L723.14,998.74 L723.23,1001.91 L723.33,1005.05 L723.43,1008.19 L723.54,1011.30 L723.65,1014.20 L723.76,1017.06 L723.89,1019.90 L724.01,1022.72 L724.14,1025.52 L724.27,1028.31 L724.41,1031.10 L724.54,1033.89 L724.67,1036.69 L724.80,1039.50" stroke="#A2142F"/>
<path d="M104.50,795.30 L104.60,793.30 L104.90,787.30 L105.01,787.53 L105.12,787.75 L105.23,787.97 L105.33,788.19 L105.44,788.42 L105.55,788.64 L105.66,788.87 L105.77,789.11 L105.89,789.36 L106.00,789.62 L106.15,789.98 L106.31,790.36 L106.46,790.75 L106.62,791.16 L106.78,791.58 L106.94,792.00 L107.11,792.43 L107.27,792.85 L107.44,793.27 L107.60,793.68 L107.77,794.10 L107.95,794.53 L108.14,794.98 L108.33,795.42 L108.52,795.86 L108.70,796.29 L108.88,796.70 L109.04,797.08 L109.18,797.43 L109.30,797.74 L109.35,797.89 L109.40,798.05 L109.44,798.21 L109.48,798.37 L109.52,798.51 L109.55,798.64 L109.58,798.75 L109.62,798.83 L109.66,798.88 L109.70,798.90 L109.78,798.83 L109.87,798.64 L109.96,798.36 L110.06,797.99 L110.16,797.56 L110.26,797.08 L110.35,796.57 L110.45,796.05 L110.54,795.54 L110.63,795.05 L110.75,794.30 L110.87,793.49 L110.98,792.62 L111.08,791.71 L111.19,790.76 L111.29,789.80 L111.39,788.83 L111.50,787.87 L111.62,786.92 L111.75,786.00 L111.88,785.11 L112.01,784.21 L112.15,783.32 L112.29,782.42 L112.44,781.53 L112.59,780.64 L112.74,779.75 L112.90,778.85 L113.07,777.96 L113.23,777.07 L113.41,776.16 L113.59,775.23 L113.78,774.29 L113.98,773.35 L114.18,772.42 L114.38,771.50 L114.58,770.60 L114.78,769.73 L114.99,768.89 L115.19,768.10 L115.34,767.53 L115.49,766.96 L115.64,766.41 L115.80,765.88 L115.95,765.36 L116.11,764.86 L116.26,764.37 L116.41,763.91 L116.57,763.47 L116.72,763.06 L116.82,762.78 L116.92,762.50 L117.02,762.22 L117.11,761.96 L117.21,761.71 L117.31,761.47 L117.41,761.25 L117.53,761.06 L117.65,760.89 L117.79,760.75 L117.90,760.67 L118.01,760.60 L118.13,760.54 L118.25,760.49 L118.37,760.46 L118.50,760.43 L118.62,760.41 L118.75,760.40 L118.88,760.40 L119.00,760.40 L119.13,760.41 L119.26,760.43 L119.39,760.45 L119.53,760.49 L119.66,760.53 L119.79,760.59 L119.92,760.65 L120.05,760.71 L120.18,760.79 L120.30,760.87 L120.45,760.99 L120.60,761.13 L120.74,761.28 L120.88,761.45 L121.02,761.63 L121.15,761.81 L121.29,762.00 L121.43,762.20 L121.56,762.39 L121.70,762.57 L121.85,762.77 L121.99,762.97 L122.13,763.18 L122.26,763.38 L122.40,763.59 L122.54,763.80 L122.69,764.02 L122.85,764.25 L123.02,764.49 L123.20,764.75 L123.52,765.18 L123.88,765.65 L124.27,766.15 L124.68,766.67 L125.10,767.22 L125.54,767.76 L125.98,768.31 L126.43,768.84 L126.87,769.36 L127.30,769.85 L127.70,770.30 L128.10,770.74 L128.50,771.19 L128.91,771.62 L129.32,772.05 L129.73,772.47 L130.14,772.88 L130.56,773.27 L130.98,773.65 L131.40,774.01 L131.79,774.32 L132.18,774.62 L132.57,774.91 L132.97,775.19 L133.37,775.46 L133.77,775.72 L134.17,775.96 L134.58,776.20 L134.99,776.43 L135.40,776.65 L135.79,776.86 L136.18,777.05 L136.56,777.24 L136.94,777.41 L137.33,777.58 L137.73,777.74 L138.14,777.89 L138.57,778.03 L139.02,778.17 L139.50,778.30 L140.22,778.47 L140.99,778.62 L141.80,778.77 L142.65,778.90 L143.53,779.01 L144.43,779.10 L145.33,779.18 L146.23,779.24 L147.13,779.28 L148.00,779.30 L148.88,779.29 L149.76,779.25 L150.64,779.18 L151.53,779.08 L152.41,778.98 L153.30,778.86 L154.21,778.74 L155.12,778.62 L156.05,778.50 L157.00,778.40 L158.11,778.29 L159.25,778.16 L160.41,778.02 L161.59,777.88 L162.78,777.74 L163.98,777.61 L165.16,777.50 L166.33,777.40 L167.48,777.33 L168.60,777.30 L169.59,777.30 L170.58,777.33 L171.56,777.39 L172.53,777.46 L173.49,777.54 L174.44,777.63 L175.36,777.71 L176.27,777.79 L177.15,777.85 L178.00,777.90 L178.65,777.93 L179.29,777.95 L179.90,777.97 L180.50,777.99 L181.08,778.00 L181.66,778.01 L182.24,778.02 L182.82,778.02 L183.41,778.01 L184.00,778.00 L184.59,777.98 L185.18,777.96 L185.75,777.94 L186.33,777.90 L186.91,777.87 L187.49,777.83 L188.09,777.78 L188.70,777.73 L189.34,777.67 L190.00,777.60 L190.87,777.50 L191.73,777.38 L192.61,777.25 L193.50,777.11 L194.43,776.95 L195.40,776.80 L196.43,776.64 L197.54,776.49 L198.72,776.34 L200.00,776.20 L202.82,775.95 L206.00,775.71 L209.51,775.49 L213.29,775.27 L217.29,775.05 L221.46,774.83 L225.76,774.60 L230.13,774.36 L234.53,774.09 L238.90,773.80 L244.55,773.40 L250.46,772.98 L256.59,772.53 L262.88,772.06 L269.28,771.57 L275.74,771.06 L282.20,770.54 L288.62,770.00 L294.93,769.46 L301.10,768.90 L306.90,768.35 L312.70,767.78 L318.47,767.19 L324.22,766.59 L329.94,765.97 L335.63,765.36 L341.26,764.73 L346.84,764.11 L352.35,763.50 L357.80,762.90 L362.68,762.36 L367.46,761.84 L372.17,761.32 L376.83,760.81 L381.46,760.29 L386.09,759.76 L390.73,759.23 L395.41,758.68 L400.16,758.10 L405.00,757.50 L410.31,756.82 L415.70,756.12 L421.15,755.40 L426.64,754.65 L432.16,753.89 L437.69,753.12 L443.22,752.34 L448.72,751.56 L454.19,750.78 L459.60,750.00 L464.86,749.24 L470.15,748.49 L475.47,747.73 L480.78,746.97 L486.05,746.20 L491.27,745.42 L496.41,744.63 L501.44,743.83 L506.35,743.02 L511.10,742.20 L514.92,741.50 L518.60,740.80 L522.18,740.09 L525.68,739.37 L529.13,738.65 L532.57,737.91 L536.01,737.17 L539.50,736.42 L543.05,735.67 L546.70,734.90 L550.81,734.05 L555.03,733.18 L559.32,732.29 L563.67,731.39 L568.02,730.48 L572.36,729.58 L576.65,728.67 L580.86,727.77 L584.95,726.88 L588.90,726.00 L592.14,725.27 L595.29,724.54 L598.39,723.81 L601.42,723.09 L604.42,722.37 L607.38,721.65 L610.32,720.94 L613.24,720.22 L616.17,719.51 L619.10,718.80 L621.88,718.13 L624.63,717.47 L627.36,716.82 L630.07,716.18 L632.77,715.53 L635.47,714.87 L638.18,714.21 L640.90,713.53 L643.64,712.83 L646.40,712.10 L649.36,711.31 L652.38,710.50 L655.45,709.68 L658.54,708.83 L661.63,707.97 L664.68,707.11 L667.68,706.23 L670.60,705.36 L673.42,704.48 L676.10,703.60 L678.18,702.89 L680.20,702.17 L682.18,701.45 L684.11,700.72 L686.00,699.99 L687.84,699.26 L689.64,698.53 L691.40,697.81 L693.12,697.10 L694.80,696.40 L696.14,695.83 L697.46,695.27 L698.75,694.70 L700.01,694.14 L701.24,693.58 L702.44,693.03 L703.62,692.48 L704.77,691.94 L705.90,691.42 L707.00,690.90 L707.88,690.49 L708.73,690.09 L709.56,689.69 L710.38,689.31 L711.18,688.92 L711.96,688.54 L712.73,688.16 L713.50,687.78 L714.25,687.39 L715.00,687.00 L715.67,686.65 L716.33,686.32 L716.97,685.99 L717.61,685.66 L718.24,685.33 L718.86,684.99 L719.48,684.63 L720.09,684.25 L720.70,683.84 L721.30,683.40 L721.96,682.87 L722.61,682.31 L723.25,681.72 L723.89,681.10 L724.52,680.46 L725.14,679.80 L725.76,679.13 L726.37,678.45 L726.99,677.78 L727.60,677.10 L728.24,676.39 L728.87,675.68 L729.50,674.96 L730.12,674.22 L730.75,673.48 L731.36,672.73 L731.98,671.97 L732.59,671.19 L733.20,670.40 L733.80,669.60 L734.45,668.72 L735.11,667.82 L735.76,666.90 L736.41,665.97 L737.06,665.03 L737.69,664.08 L738.32,663.12 L738.93,662.15 L739.52,661.18 L740.10,660.20 L740.66,659.22 L741.20,658.23 L741.73,657.23 L742.25,656.22 L742.75,655.21 L743.24,654.19 L743.72,653.16 L744.19,652.14 L744.65,651.12 L745.10,650.10 L745.53,649.10 L745.94,648.10 L746.34,647.10 L746.73,646.09 L747.10,645.09 L747.47,644.08 L747.84,643.08 L748.20,642.08 L748.55,641.09 L748.90,640.10 L749.23,639.17 L749.55,638.24 L749.86,637.32 L750.16,636.40 L750.46,635.48 L750.76,634.57 L751.05,633.65 L751.35,632.74 L751.65,631.82 L751.95,630.90 L751.97,631.02 L751.99,631.14 L752.01,631.25 L752.04,631.37 L752.06,631.48 L752.08,631.60 L752.10,631.72 L752.12,631.84 L752.14,631.97 L752.15,632.10 L752.16,632.25 L752.17,632.39 L752.18,632.53 L752.19,632.66 L752.19,632.80 L752.19,632.96 L752.19,633.15 L752.19,633.36 L752.20,633.61 L752.20,633.90 L752.24,637.81 L752.28,644.43 L752.32,653.28 L752.37,663.83 L752.41,675.61 L752.46,688.11 L752.50,700.82 L752.54,713.26 L752.58,724.92 L752.62,735.30 L752.65,743.81 L752.68,752.21 L752.71,760.51 L752.73,768.72 L752.76,776.84 L752.78,784.88 L752.81,792.85 L752.84,800.76 L752.87,808.62 L752.91,816.42 L752.95,823.58 L753.00,830.72 L753.04,837.81 L753.09,844.85 L753.14,851.82 L753.20,858.72 L753.25,865.54 L753.31,872.26 L753.36,878.88 L753.42,885.37 L753.47,890.96 L753.52,896.48 L753.57,901.93 L753.62,907.30 L753.68,912.61 L753.73,917.85 L753.79,923.01 L753.84,928.11 L753.90,933.14 L753.96,938.10 L754.02,942.39 L754.07,946.62 L754.12,950.80 L754.18,954.92 L754.23,958.99 L754.29,963.02 L754.35,966.99 L754.42,970.92 L754.48,974.81 L754.55,978.66 L754.62,982.06 L754.68,985.42 L754.75,988.73 L754.82,992.00 L754.89,995.25 L754.96,998.46 L755.04,1001.65 L755.13,1004.82 L755.21,1007.97 L755.31,1011.11 L755.40,1014.02 L755.50,1016.91 L755.61,1019.77 L755.72,1022.60 L755.83,1025.42 L755.95,1028.23 L756.06,1031.04 L756.18,1033.85 L756.29,1036.67 L756.40,1039.50" stroke="#0072BD"/>
<path d="M104.50,805.70 L104.60,803.70 L104.90,797.70 L105.01,797.89 L105.12,798.08 L105.23,798.26 L105.33,798.45 L105.44,798.63 L105.55,798.82 L105.66,799.01 L105.77,799.21 L105.89,799.42 L106.00,799.64 L106.15,799.94 L106.31,800.26 L106.46,800.59 L106.62,800.93 L106.78,801.28 L106.94,801.63 L107.11,801.99 L107.27,802.34 L107.44,802.69 L107.60,803.04 L107.77,803.38 L107.96,803.75 L108.15,804.12 L108.34,804.49 L108.54,804.86 L108.72,805.22 L108.90,805.56 L109.05,805.88 L109.19,806.17 L109.30,806.43 L109.35,806.56 L109.38,806.69 L109.42,806.82 L109.44,806.95 L109.47,807.07 L109.49,807.18 L109.51,807.27 L109.54,807.34 L109.57,807.38 L109.60,807.40 L109.68,807.34 L109.76,807.16 L109.85,806.88 L109.95,806.53 L110.05,806.11 L110.15,805.65 L110.25,805.17 L110.35,804.67 L110.44,804.18 L110.53,803.71 L110.65,802.99 L110.77,802.21 L110.88,801.38 L110.98,800.50 L111.09,799.60 L111.19,798.68 L111.29,797.75 L111.40,796.83 L111.52,795.92 L111.65,795.04 L111.78,794.18 L111.91,793.32 L112.05,792.46 L112.19,791.61 L112.34,790.75 L112.49,789.90 L112.64,789.04 L112.80,788.19 L112.97,787.33 L113.13,786.48 L113.31,785.61 L113.49,784.72 L113.68,783.82 L113.88,782.92 L114.08,782.02 L114.28,781.14 L114.48,780.27 L114.68,779.44 L114.89,778.64 L115.09,777.88 L115.24,777.33 L115.39,776.79 L115.54,776.26 L115.70,775.75 L115.85,775.25 L116.01,774.77 L116.16,774.31 L116.31,773.86 L116.47,773.44 L116.62,773.05 L116.73,772.78 L116.82,772.51 L116.92,772.25 L117.01,771.99 L117.11,771.75 L117.21,771.53 L117.32,771.32 L117.43,771.13 L117.55,770.97 L117.69,770.83 L117.80,770.75 L117.91,770.69 L118.03,770.63 L118.15,770.59 L118.27,770.55 L118.40,770.53 L118.52,770.51 L118.65,770.50 L118.78,770.50 L118.90,770.50 L119.03,770.51 L119.16,770.53 L119.29,770.56 L119.43,770.59 L119.56,770.64 L119.69,770.69 L119.82,770.75 L119.95,770.82 L120.08,770.90 L120.20,770.98 L120.35,771.10 L120.50,771.24 L120.64,771.40 L120.78,771.57 L120.92,771.76 L121.06,771.94 L121.19,772.14 L121.33,772.33 L121.46,772.53 L121.60,772.72 L121.75,772.92 L121.89,773.13 L122.03,773.33 L122.16,773.54 L122.30,773.76 L122.44,773.97 L122.59,774.20 L122.75,774.44 L122.92,774.68 L123.10,774.94 L123.42,775.38 L123.78,775.86 L124.17,776.37 L124.57,776.91 L125.00,777.46 L125.44,778.02 L125.88,778.57 L126.33,779.12 L126.77,779.65 L127.20,780.15 L127.60,780.61 L128.00,781.06 L128.40,781.51 L128.81,781.96 L129.21,782.40 L129.62,782.82 L130.04,783.24 L130.45,783.64 L130.88,784.03 L131.30,784.40 L131.69,784.71 L132.08,785.02 L132.47,785.32 L132.87,785.60 L133.26,785.88 L133.67,786.14 L134.07,786.39 L134.48,786.64 L134.89,786.87 L135.30,787.10 L135.69,787.31 L136.07,787.50 L136.45,787.69 L136.83,787.87 L137.22,788.04 L137.62,788.21 L138.03,788.36 L138.46,788.51 L138.92,788.65 L139.40,788.78 L140.15,788.95 L140.97,789.12 L141.83,789.26 L142.74,789.39 L143.68,789.51 L144.64,789.60 L145.60,789.68 L146.55,789.74 L147.49,789.78 L148.40,789.80 L149.26,789.79 L150.11,789.75 L150.95,789.69 L151.79,789.60 L152.63,789.50 L153.48,789.40 L154.33,789.29 L155.20,789.18 L156.09,789.08 L157.00,789.00 L158.09,788.91 L159.23,788.81 L160.39,788.70 L161.57,788.60 L162.77,788.49 L163.96,788.40 L165.15,788.32 L166.33,788.26 L167.48,788.22 L168.60,788.20 L169.59,788.21 L170.58,788.25 L171.56,788.30 L172.53,788.38 L173.49,788.45 L174.44,788.54 L175.36,788.62 L176.27,788.69 L177.15,788.76 L178.00,788.80 L178.65,788.83 L179.29,788.86 L179.90,788.89 L180.50,788.91 L181.09,788.93 L181.67,788.95 L182.24,788.95 L182.82,788.95 L183.41,788.93 L184.00,788.90 L184.59,788.85 L185.18,788.78 L185.75,788.70 L186.33,788.61 L186.91,788.51 L187.49,788.41 L188.09,788.30 L188.70,788.20 L189.34,788.10 L190.00,788.00 L190.87,787.88 L191.73,787.76 L192.60,787.64 L193.50,787.52 L194.43,787.39 L195.40,787.27 L196.43,787.15 L197.54,787.03 L198.72,786.91 L200.00,786.80 L202.82,786.59 L206.00,786.40 L209.51,786.23 L213.29,786.07 L217.29,785.90 L221.46,785.74 L225.76,785.56 L230.13,785.36 L234.53,785.15 L238.90,784.90 L244.55,784.55 L250.46,784.17 L256.59,783.76 L262.88,783.32 L269.28,782.86 L275.74,782.39 L282.20,781.90 L288.62,781.41 L294.93,780.90 L301.10,780.40 L306.90,779.91 L312.70,779.41 L318.47,778.91 L324.22,778.39 L329.95,777.86 L335.63,777.32 L341.26,776.78 L346.84,776.22 L352.35,775.66 L357.80,775.10 L362.68,774.58 L367.47,774.05 L372.18,773.52 L376.83,772.99 L381.46,772.44 L386.09,771.89 L390.73,771.33 L395.41,770.77 L400.16,770.19 L405.00,769.60 L410.31,768.95 L415.69,768.29 L421.14,767.62 L426.63,766.93 L432.16,766.24 L437.69,765.54 L443.22,764.83 L448.72,764.12 L454.19,763.41 L459.60,762.70 L464.86,762.01 L470.15,761.32 L475.47,760.63 L480.77,759.94 L486.05,759.24 L491.27,758.53 L496.41,757.82 L501.44,757.09 L506.35,756.35 L511.10,755.60 L514.92,754.96 L518.60,754.31 L522.18,753.66 L525.68,752.99 L529.13,752.32 L532.56,751.65 L536.01,750.96 L539.49,750.28 L543.05,749.59 L546.70,748.90 L550.81,748.14 L555.03,747.37 L559.33,746.59 L563.67,745.81 L568.03,745.03 L572.37,744.24 L576.66,743.45 L580.87,742.66 L584.96,741.88 L588.90,741.10 L592.12,740.45 L595.28,739.81 L598.36,739.17 L601.40,738.54 L604.39,737.90 L607.34,737.26 L610.25,736.61 L613.15,735.95 L616.03,735.28 L618.90,734.60 L621.53,733.95 L624.10,733.29 L626.62,732.61 L629.12,731.93 L631.61,731.24 L634.10,730.55 L636.61,729.85 L639.15,729.16 L641.74,728.48 L644.40,727.80 L647.46,727.06 L650.61,726.33 L653.83,725.61 L657.10,724.90 L660.38,724.18 L663.66,723.46 L666.91,722.72 L670.10,721.97 L673.20,721.20 L676.20,720.40 L678.76,719.67 L681.29,718.90 L683.79,718.12 L686.25,717.31 L688.68,716.51 L691.05,715.70 L693.38,714.91 L695.65,714.14 L697.86,713.40 L700.00,712.70 L701.65,712.17 L703.24,711.67 L704.80,711.17 L706.31,710.70 L707.80,710.23 L709.26,709.76 L710.71,709.30 L712.14,708.84 L713.57,708.37 L715.00,707.90 L716.32,707.46 L717.64,707.03 L718.95,706.60 L720.25,706.18 L721.54,705.75 L722.80,705.32 L724.05,704.88 L725.27,704.43 L726.45,703.97 L727.60,703.50 L728.55,703.09 L729.48,702.67 L730.38,702.25 L731.26,701.82 L732.12,701.39 L732.97,700.95 L733.81,700.50 L734.64,700.04 L735.47,699.57 L736.30,699.10 L737.09,698.64 L737.88,698.18 L738.65,697.71 L739.42,697.24 L740.17,696.76 L740.93,696.27 L741.67,695.76 L742.42,695.23 L743.16,694.68 L743.90,694.10 L744.72,693.43 L745.54,692.74 L746.36,692.01 L747.18,691.26 L747.99,690.49 L748.79,689.71 L749.57,688.92 L750.34,688.11 L751.08,687.31 L751.80,686.50 L752.46,685.73 L753.10,684.95 L753.72,684.16 L754.33,683.37 L754.92,682.56 L755.49,681.75 L756.06,680.93 L756.61,680.10 L757.16,679.25 L757.70,678.40 L758.25,677.51 L758.78,676.61 L759.30,675.71 L759.80,674.80 L760.30,673.87 L760.79,672.93 L761.27,671.98 L761.75,671.00 L762.23,670.01 L762.70,669.00 L763.23,667.83 L763.76,666.62 L764.29,665.39 L764.81,664.14 L765.32,662.86 L765.82,661.58 L766.31,660.28 L766.79,658.99 L767.25,657.69 L767.70,656.40 L768.14,655.10 L768.56,653.80 L768.97,652.48 L769.36,651.16 L769.75,649.84 L770.12,648.51 L770.48,647.19 L770.83,645.86 L771.17,644.53 L771.50,643.20 L771.81,641.89 L772.10,640.57 L772.38,639.25 L772.64,637.93 L772.89,636.61 L773.14,635.29 L773.39,633.96 L773.64,632.64 L773.89,631.32 L774.15,630.00 L774.17,630.12 L774.19,630.24 L774.21,630.35 L774.24,630.47 L774.26,630.58 L774.28,630.70 L774.30,630.82 L774.32,630.94 L774.34,631.07 L774.35,631.20 L774.36,631.35 L774.37,631.49 L774.38,631.63 L774.39,631.76 L774.39,631.90 L774.39,632.06 L774.39,632.25 L774.39,632.46 L774.40,632.71 L774.40,633.00 L774.44,636.92 L774.48,643.55 L774.51,652.41 L774.55,663.00 L774.59,674.80 L774.63,687.33 L774.67,700.07 L774.70,712.54 L774.74,724.22 L774.77,734.62 L774.80,743.15 L774.82,751.57 L774.85,759.89 L774.87,768.11 L774.89,776.25 L774.91,784.32 L774.94,792.31 L774.96,800.23 L774.99,808.10 L775.03,815.92 L775.06,823.10 L775.10,830.25 L775.14,837.36 L775.19,844.42 L775.23,851.41 L775.28,858.32 L775.33,865.16 L775.37,871.89 L775.42,878.52 L775.47,885.03 L775.52,890.63 L775.56,896.16 L775.61,901.62 L775.65,907.01 L775.70,912.33 L775.75,917.58 L775.80,922.75 L775.85,927.86 L775.90,932.90 L775.95,937.88 L776.00,942.18 L776.05,946.42 L776.10,950.60 L776.14,954.74 L776.19,958.82 L776.24,962.85 L776.30,966.83 L776.35,970.77 L776.41,974.67 L776.47,978.52 L776.53,981.93 L776.59,985.30 L776.65,988.62 L776.71,991.90 L776.77,995.15 L776.84,998.37 L776.90,1001.56 L776.98,1004.74 L777.06,1007.90 L777.14,1011.04 L777.22,1013.97 L777.31,1016.86 L777.40,1019.72 L777.50,1022.56 L777.60,1025.39 L777.70,1028.21 L777.80,1031.02 L777.90,1033.84 L778.00,1036.66 L778.10,1039.50" stroke="#D95319"/>
<path d="M104.50,830.00 L104.60,814.00 L104.90,808.00 L105.01,808.16 L105.12,808.31 L105.23,808.46 L105.33,808.62 L105.44,808.77 L105.55,808.92 L105.66,809.08 L105.77,809.25 L105.88,809.42 L106.00,809.60 L106.15,809.85 L106.31,810.11 L106.46,810.38 L106.62,810.66 L106.78,810.95 L106.94,811.24 L107.11,811.54 L107.27,811.83 L107.44,812.12 L107.60,812.40 L107.77,812.69 L107.96,812.99 L108.15,813.29 L108.34,813.60 L108.54,813.90 L108.72,814.20 L108.90,814.48 L109.05,814.74 L109.19,814.99 L109.30,815.20 L109.35,815.30 L109.38,815.41 L109.42,815.52 L109.44,815.63 L109.47,815.73 L109.49,815.82 L109.52,815.89 L109.54,815.95 L109.57,815.99 L109.60,816.00 L109.68,815.94 L109.76,815.76 L109.85,815.49 L109.95,815.15 L110.04,814.75 L110.14,814.30 L110.24,813.83 L110.34,813.34 L110.43,812.86 L110.52,812.41 L110.64,811.71 L110.76,810.95 L110.87,810.14 L110.97,809.29 L111.07,808.41 L111.17,807.52 L111.28,806.61 L111.38,805.71 L111.50,804.83 L111.62,803.97 L111.75,803.14 L111.89,802.30 L112.02,801.47 L112.16,800.63 L112.31,799.80 L112.46,798.97 L112.61,798.14 L112.77,797.31 L112.93,796.48 L113.10,795.64 L113.27,794.80 L113.45,793.93 L113.64,793.06 L113.83,792.18 L114.03,791.31 L114.23,790.45 L114.43,789.61 L114.63,788.79 L114.83,788.02 L115.03,787.28 L115.18,786.74 L115.33,786.22 L115.48,785.71 L115.63,785.21 L115.78,784.72 L115.94,784.25 L116.09,783.80 L116.24,783.37 L116.39,782.96 L116.55,782.58 L116.65,782.32 L116.75,782.06 L116.84,781.80 L116.94,781.55 L117.03,781.32 L117.13,781.10 L117.23,780.89 L117.35,780.71 L117.47,780.55 L117.60,780.42 L117.71,780.35 L117.82,780.28 L117.94,780.23 L118.05,780.18 L118.18,780.15 L118.30,780.12 L118.43,780.11 L118.55,780.10 L118.68,780.10 L118.80,780.10 L118.93,780.11 L119.06,780.13 L119.19,780.16 L119.33,780.20 L119.46,780.25 L119.59,780.30 L119.72,780.37 L119.85,780.44 L119.98,780.52 L120.10,780.61 L120.25,780.73 L120.40,780.88 L120.54,781.04 L120.68,781.22 L120.82,781.41 L120.96,781.61 L121.09,781.82 L121.23,782.02 L121.36,782.22 L121.50,782.42 L121.65,782.64 L121.79,782.85 L121.93,783.07 L122.06,783.28 L122.20,783.51 L122.34,783.74 L122.49,783.97 L122.65,784.22 L122.82,784.48 L123.00,784.75 L123.32,785.21 L123.68,785.71 L124.07,786.24 L124.47,786.81 L124.90,787.38 L125.34,787.97 L125.78,788.55 L126.23,789.12 L126.67,789.68 L127.10,790.20 L127.50,790.68 L127.90,791.15 L128.30,791.63 L128.71,792.09 L129.11,792.55 L129.52,793.00 L129.94,793.43 L130.35,793.85 L130.77,794.26 L131.20,794.64 L131.59,794.98 L131.98,795.30 L132.37,795.61 L132.76,795.90 L133.16,796.19 L133.56,796.47 L133.97,796.73 L134.38,796.99 L134.79,797.24 L135.20,797.47 L135.59,797.69 L135.97,797.90 L136.35,798.09 L136.73,798.28 L137.11,798.46 L137.51,798.63 L137.92,798.79 L138.35,798.95 L138.81,799.09 L139.30,799.23 L140.07,799.42 L140.91,799.59 L141.81,799.74 L142.76,799.88 L143.73,800.00 L144.72,800.10 L145.72,800.18 L146.71,800.24 L147.67,800.28 L148.60,800.30 L149.45,800.29 L150.30,800.25 L151.13,800.19 L151.95,800.11 L152.78,800.01 L153.61,799.91 L154.44,799.80 L155.28,799.69 L156.13,799.59 L157.00,799.50 L157.97,799.40 L158.95,799.30 L159.95,799.18 L160.96,799.07 L161.98,798.95 L163.00,798.85 L164.01,798.76 L165.02,798.68 L166.02,798.63 L167.00,798.60 L167.92,798.60 L168.84,798.63 L169.75,798.68 L170.66,798.75 L171.56,798.82 L172.46,798.91 L173.35,798.99 L174.24,799.07 L175.12,799.14 L176.00,799.20 L176.82,799.25 L177.65,799.31 L178.47,799.37 L179.29,799.43 L180.10,799.48 L180.91,799.53 L181.70,799.57 L182.48,799.60 L183.25,799.61 L184.00,799.60 L184.63,799.58 L185.23,799.54 L185.82,799.50 L186.39,799.44 L186.96,799.38 L187.53,799.31 L188.12,799.24 L188.72,799.16 L189.34,799.08 L190.00,799.00 L190.87,798.89 L191.73,798.76 L192.61,798.62 L193.50,798.47 L194.43,798.31 L195.40,798.16 L196.43,798.01 L197.54,797.86 L198.72,797.72 L200.00,797.60 L202.82,797.40 L206.00,797.23 L209.51,797.11 L213.29,797.00 L217.29,796.90 L221.46,796.81 L225.76,796.70 L230.13,796.57 L234.53,796.41 L238.90,796.20 L244.55,795.88 L250.46,795.52 L256.59,795.13 L262.88,794.70 L269.28,794.24 L275.74,793.77 L282.20,793.28 L288.62,792.79 L294.93,792.29 L301.10,791.80 L306.90,791.33 L312.69,790.84 L318.47,790.35 L324.22,789.84 L329.94,789.33 L335.63,788.81 L341.26,788.29 L346.84,787.76 L352.35,787.23 L357.80,786.70 L362.68,786.22 L367.47,785.74 L372.17,785.26 L376.83,784.78 L381.46,784.29 L386.09,783.79 L390.73,783.29 L395.41,782.77 L400.16,782.25 L405.00,781.70 L410.31,781.09 L415.69,780.47 L421.14,779.83 L426.64,779.18 L432.16,778.51 L437.69,777.84 L443.22,777.16 L448.72,776.47 L454.19,775.79 L459.60,775.10 L464.86,774.43 L470.15,773.76 L475.47,773.08 L480.77,772.39 L486.05,771.70 L491.26,771.01 L496.40,770.31 L501.44,769.61 L506.35,768.91 L511.10,768.20 L514.92,767.61 L518.60,767.03 L522.17,766.44 L525.68,765.85 L529.13,765.26 L532.56,764.66 L536.01,764.06 L539.49,763.45 L543.05,762.83 L546.70,762.20 L550.81,761.50 L555.03,760.79 L559.33,760.07 L563.67,759.33 L568.03,758.59 L572.37,757.85 L576.66,757.11 L580.87,756.37 L584.96,755.63 L588.90,754.90 L592.12,754.29 L595.27,753.68 L598.36,753.08 L601.40,752.48 L604.38,751.88 L607.33,751.27 L610.25,750.67 L613.15,750.05 L616.03,749.43 L618.90,748.80 L621.52,748.21 L624.09,747.60 L626.62,746.99 L629.12,746.38 L631.60,745.76 L634.09,745.14 L636.60,744.53 L639.15,743.91 L641.74,743.30 L644.40,742.70 L647.46,742.04 L650.61,741.40 L653.83,740.76 L657.09,740.13 L660.38,739.50 L663.65,738.87 L666.90,738.22 L670.09,737.57 L673.20,736.89 L676.20,736.20 L678.75,735.57 L681.28,734.92 L683.79,734.26 L686.25,733.59 L688.68,732.91 L691.06,732.23 L693.39,731.56 L695.66,730.89 L697.86,730.24 L700.00,729.60 L701.65,729.10 L703.25,728.60 L704.80,728.11 L706.32,727.62 L707.80,727.13 L709.26,726.65 L710.71,726.18 L712.14,725.71 L713.57,725.25 L715.00,724.80 L716.30,724.40 L717.59,724.01 L718.86,723.63 L720.12,723.25 L721.37,722.88 L722.62,722.51 L723.86,722.14 L725.10,721.77 L726.35,721.39 L727.60,721.00 L728.86,720.60 L730.11,720.20 L731.37,719.79 L732.63,719.37 L733.88,718.96 L735.13,718.54 L736.38,718.13 L737.63,717.71 L738.87,717.30 L740.10,716.90 L741.30,716.52 L742.53,716.14 L743.77,715.78 L745.01,715.41 L746.24,715.05 L747.45,714.68 L748.62,714.30 L749.74,713.91 L750.81,713.52 L751.80,713.10 L752.49,712.79 L753.13,712.49 L753.74,712.19 L754.33,711.89 L754.89,711.58 L755.45,711.25 L756.00,710.91 L756.55,710.54 L757.12,710.14 L757.70,709.70 L758.45,709.10 L759.21,708.46 L759.98,707.77 L760.76,707.04 L761.53,706.27 L762.29,705.49 L763.05,704.68 L763.79,703.86 L764.51,703.03 L765.20,702.20 L765.90,701.33 L766.57,700.44 L767.24,699.52 L767.89,698.59 L768.52,697.65 L769.14,696.69 L769.75,695.72 L770.35,694.75 L770.93,693.77 L771.50,692.80 L772.06,691.83 L772.60,690.85 L773.13,689.86 L773.65,688.86 L774.15,687.86 L774.64,686.85 L775.12,685.84 L775.59,684.83 L776.05,683.81 L776.50,682.80 L776.93,681.81 L777.34,680.83 L777.74,679.85 L778.13,678.86 L778.50,677.88 L778.87,676.88 L779.23,675.87 L779.59,674.84 L779.95,673.78 L780.30,672.70 L780.70,671.41 L781.10,670.08 L781.50,668.71 L781.88,667.32 L782.26,665.91 L782.63,664.49 L782.99,663.07 L783.34,661.66 L783.68,660.27 L784.00,658.90 L784.29,657.63 L784.57,656.38 L784.83,655.14 L785.09,653.91 L785.34,652.68 L785.57,651.45 L785.81,650.21 L786.04,648.96 L786.27,647.69 L786.50,646.40 L786.74,644.99 L786.98,643.56 L787.21,642.11 L787.43,640.65 L787.65,639.17 L787.87,637.70 L788.09,636.22 L788.31,634.74 L788.53,633.27 L788.75,631.80 L788.77,631.92 L788.79,632.04 L788.81,632.15 L788.84,632.27 L788.86,632.38 L788.88,632.50 L788.90,632.62 L788.92,632.74 L788.94,632.87 L788.95,633.00 L788.96,633.15 L788.97,633.29 L788.98,633.43 L788.99,633.56 L788.99,633.70 L788.99,633.86 L788.99,634.05 L788.99,634.26 L789.00,634.51 L789.00,634.80 L789.03,638.70 L789.06,645.31 L789.08,654.14 L789.10,664.67 L789.12,676.42 L789.14,688.89 L789.15,701.58 L789.17,713.99 L789.18,725.62 L789.20,735.97 L789.21,744.46 L789.23,752.85 L789.24,761.13 L789.25,769.32 L789.26,777.42 L789.28,785.45 L789.29,793.40 L789.30,801.29 L789.32,809.13 L789.34,816.91 L789.36,824.06 L789.38,831.18 L789.40,838.26 L789.43,845.28 L789.45,852.24 L789.47,859.13 L789.50,865.93 L789.53,872.63 L789.55,879.23 L789.58,885.71 L789.60,891.29 L789.63,896.80 L789.65,902.23 L789.68,907.60 L789.70,912.89 L789.73,918.12 L789.76,923.27 L789.78,928.36 L789.81,933.37 L789.84,938.33 L789.87,942.61 L789.89,946.83 L789.92,951.00 L789.94,955.11 L789.97,959.17 L790.00,963.19 L790.02,967.15 L790.05,971.07 L790.09,974.95 L790.12,978.80 L790.15,982.19 L790.18,985.54 L790.21,988.84 L790.25,992.11 L790.28,995.34 L790.32,998.55 L790.35,1001.73 L790.39,1004.89 L790.44,1008.04 L790.48,1011.17 L790.52,1014.08 L790.57,1016.96 L790.62,1019.81 L790.68,1022.64 L790.73,1025.45 L790.78,1028.26 L790.84,1031.06 L790.89,1033.86 L790.95,1036.68 L791.00,1039.50" stroke="#EDB120"/>
<path d="M104.50,848.30 L104.60,833.60 L104.90,827.60 L105.01,827.70 L105.12,827.79 L105.23,827.89 L105.33,827.98 L105.44,828.08 L105.55,828.18 L105.66,828.27 L105.77,828.38 L105.88,828.49 L106.00,828.60 L106.15,828.75 L106.30,828.92 L106.46,829.09 L106.62,829.26 L106.78,829.44 L106.94,829.63 L107.11,829.81 L107.27,829.99 L107.44,830.17 L107.60,830.35 L107.78,830.53 L107.98,830.72 L108.20,830.91 L108.41,831.10 L108.63,831.28 L108.82,831.47 L109.00,831.64 L109.14,831.81 L109.25,831.96 L109.30,832.10 L109.30,832.16 L109.30,832.23 L109.28,832.30 L109.25,832.36 L109.22,832.43 L109.19,832.48 L109.16,832.53 L109.13,832.57 L109.11,832.59 L109.10,832.60 L109.11,832.54 L109.16,832.38 L109.24,832.14 L109.34,831.82 L109.46,831.45 L109.59,831.03 L109.72,830.60 L109.84,830.15 L109.96,829.71 L110.06,829.29 L110.19,828.65 L110.31,827.95 L110.42,827.20 L110.53,826.42 L110.63,825.60 L110.74,824.78 L110.85,823.94 L110.96,823.12 L111.08,822.30 L111.21,821.51 L111.35,820.74 L111.49,819.97 L111.63,819.20 L111.78,818.43 L111.93,817.66 L112.08,816.90 L112.24,816.13 L112.41,815.36 L112.57,814.60 L112.75,813.83 L112.93,813.05 L113.12,812.25 L113.32,811.44 L113.52,810.64 L113.72,809.83 L113.93,809.04 L114.14,808.26 L114.35,807.52 L114.56,806.80 L114.76,806.12 L114.92,805.62 L115.08,805.14 L115.24,804.67 L115.40,804.21 L115.55,803.76 L115.71,803.33 L115.87,802.91 L116.03,802.52 L116.19,802.14 L116.35,801.78 L116.46,801.54 L116.56,801.30 L116.66,801.07 L116.76,800.84 L116.86,800.62 L116.96,800.42 L117.07,800.23 L117.19,800.06 L117.32,799.92 L117.45,799.80 L117.56,799.72 L117.68,799.66 L117.80,799.61 L117.93,799.57 L118.05,799.54 L118.18,799.51 L118.31,799.50 L118.45,799.49 L118.57,799.49 L118.70,799.50 L118.83,799.51 L118.96,799.54 L119.10,799.57 L119.23,799.61 L119.36,799.66 L119.49,799.72 L119.62,799.79 L119.75,799.86 L119.88,799.94 L120.00,800.03 L120.15,800.17 L120.30,800.32 L120.45,800.50 L120.59,800.69 L120.72,800.89 L120.86,801.09 L120.99,801.31 L121.13,801.53 L121.26,801.74 L121.40,801.95 L121.55,802.18 L121.69,802.40 L121.83,802.63 L121.96,802.86 L122.10,803.09 L122.24,803.33 L122.39,803.58 L122.55,803.84 L122.72,804.11 L122.90,804.40 L123.22,804.88 L123.58,805.41 L123.96,805.98 L124.37,806.57 L124.80,807.18 L125.24,807.79 L125.68,808.41 L126.13,809.01 L126.57,809.60 L127.00,810.15 L127.40,810.65 L127.80,811.15 L128.20,811.65 L128.60,812.14 L129.01,812.63 L129.42,813.10 L129.83,813.56 L130.25,814.00 L130.67,814.43 L131.10,814.84 L131.49,815.19 L131.87,815.52 L132.27,815.85 L132.66,816.16 L133.06,816.46 L133.46,816.76 L133.87,817.04 L134.27,817.31 L134.69,817.57 L135.10,817.82 L135.49,818.05 L135.88,818.26 L136.26,818.47 L136.65,818.67 L137.04,818.86 L137.45,819.04 L137.86,819.21 L138.29,819.37 L138.73,819.52 L139.20,819.67 L139.83,819.85 L140.50,820.01 L141.19,820.17 L141.91,820.31 L142.65,820.43 L143.41,820.54 L144.18,820.63 L144.95,820.71 L145.73,820.76 L146.50,820.80 L147.37,820.81 L148.25,820.77 L149.14,820.71 L150.04,820.62 L150.95,820.52 L151.88,820.40 L152.80,820.28 L153.73,820.17 L154.67,820.08 L155.60,820.00 L156.59,819.93 L157.59,819.86 L158.59,819.79 L159.60,819.72 L160.62,819.65 L161.63,819.60 L162.65,819.55 L163.67,819.52 L164.69,819.50 L165.70,819.50 L166.71,819.52 L167.72,819.57 L168.73,819.64 L169.74,819.73 L170.75,819.82 L171.76,819.91 L172.77,820.00 L173.78,820.09 L174.79,820.15 L175.80,820.20 L176.80,820.23 L177.79,820.26 L178.78,820.28 L179.76,820.29 L180.75,820.30 L181.74,820.30 L182.75,820.29 L183.77,820.27 L184.82,820.24 L185.90,820.20 L187.18,820.13 L188.46,820.05 L189.74,819.94 L191.04,819.82 L192.37,819.69 L193.74,819.55 L195.18,819.41 L196.69,819.27 L198.30,819.13 L200.00,819.00 L203.07,818.79 L206.40,818.56 L209.96,818.34 L213.73,818.11 L217.67,817.87 L221.76,817.64 L225.95,817.40 L230.23,817.17 L234.55,816.93 L238.90,816.70 L244.54,816.42 L250.46,816.15 L256.58,815.89 L262.87,815.63 L269.27,815.37 L275.73,815.09 L282.20,814.81 L288.62,814.50 L294.93,814.16 L301.10,813.80 L306.90,813.42 L312.70,813.02 L318.47,812.59 L324.22,812.14 L329.94,811.68 L335.63,811.21 L341.26,810.74 L346.84,810.26 L352.35,809.78 L357.80,809.30 L362.68,808.87 L367.46,808.44 L372.17,808.01 L376.83,807.57 L381.46,807.13 L386.08,806.69 L390.73,806.23 L395.41,805.77 L400.16,805.29 L405.00,804.80 L410.31,804.26 L415.69,803.71 L421.14,803.14 L426.64,802.57 L432.16,801.98 L437.69,801.38 L443.22,800.78 L448.72,800.16 L454.19,799.54 L459.60,798.90 L464.86,798.27 L470.15,797.61 L475.47,796.94 L480.77,796.26 L486.04,795.57 L491.26,794.88 L496.40,794.19 L501.43,793.52 L506.34,792.85 L511.10,792.20 L514.91,791.68 L518.59,791.16 L522.17,790.66 L525.67,790.16 L529.12,789.67 L532.56,789.17 L536.01,788.67 L539.49,788.16 L543.05,787.64 L546.70,787.10 L550.81,786.50 L555.03,785.88 L559.33,785.24 L563.67,784.60 L568.03,783.95 L572.37,783.30 L576.66,782.65 L580.87,781.99 L584.96,781.34 L588.90,780.70 L592.12,780.16 L595.27,779.62 L598.36,779.08 L601.39,778.53 L604.38,777.99 L607.33,777.45 L610.24,776.91 L613.14,776.37 L616.02,775.84 L618.90,775.30 L621.52,774.81 L624.09,774.33 L626.62,773.85 L629.12,773.37 L631.61,772.89 L634.10,772.41 L636.61,771.92 L639.16,771.43 L641.75,770.92 L644.40,770.40 L647.46,769.80 L650.61,769.17 L653.83,768.53 L657.09,767.88 L660.37,767.23 L663.65,766.57 L666.89,765.91 L670.08,765.26 L673.19,764.62 L676.20,764.00 L678.75,763.47 L681.27,762.95 L683.77,762.43 L686.24,761.92 L688.67,761.41 L691.05,760.90 L693.38,760.40 L695.65,759.90 L697.86,759.40 L700.00,758.90 L701.65,758.49 L703.24,758.07 L704.80,757.64 L706.31,757.21 L707.79,756.78 L709.25,756.37 L710.69,755.98 L712.13,755.61 L713.56,755.28 L715.00,755.00 L716.30,754.79 L717.58,754.61 L718.85,754.47 L720.11,754.35 L721.36,754.24 L722.61,754.15 L723.85,754.05 L725.10,753.95 L726.35,753.84 L727.60,753.70 L728.85,753.54 L730.10,753.38 L731.35,753.20 L732.60,753.02 L733.85,752.84 L735.10,752.66 L736.35,752.49 L737.60,752.31 L738.85,752.15 L740.10,752.00 L741.36,751.86 L742.62,751.73 L743.88,751.61 L745.14,751.50 L746.40,751.39 L747.66,751.28 L748.92,751.17 L750.18,751.05 L751.44,750.93 L752.70,750.80 L753.97,750.67 L755.27,750.53 L756.59,750.39 L757.91,750.25 L759.22,750.11 L760.51,749.96 L761.77,749.81 L762.98,749.65 L764.13,749.48 L765.20,749.30 L765.92,749.17 L766.61,749.05 L767.26,748.93 L767.90,748.81 L768.51,748.68 L769.11,748.54 L769.70,748.39 L770.30,748.22 L770.89,748.02 L771.50,747.80 L772.15,747.54 L772.80,747.25 L773.46,746.95 L774.11,746.62 L774.75,746.27 L775.39,745.91 L776.02,745.53 L776.63,745.14 L777.22,744.72 L777.80,744.30 L778.35,743.86 L778.89,743.41 L779.41,742.94 L779.92,742.46 L780.42,741.96 L780.91,741.45 L781.39,740.91 L781.86,740.36 L782.33,739.79 L782.80,739.20 L783.34,738.49 L783.87,737.75 L784.40,736.98 L784.92,736.18 L785.43,735.36 L785.93,734.53 L786.42,733.68 L786.90,732.82 L787.36,731.96 L787.80,731.10 L788.24,730.21 L788.66,729.31 L789.07,728.41 L789.47,727.49 L789.85,726.57 L790.22,725.63 L790.58,724.67 L790.93,723.70 L791.27,722.71 L791.60,721.70 L791.97,720.52 L792.32,719.31 L792.66,718.08 L792.99,716.81 L793.30,715.53 L793.61,714.24 L793.90,712.95 L794.18,711.66 L794.44,710.37 L794.70,709.10 L794.94,707.86 L795.16,706.64 L795.36,705.42 L795.56,704.21 L795.74,702.99 L795.91,701.75 L796.09,700.51 L796.26,699.24 L796.43,697.94 L796.60,696.60 L796.80,694.98 L797.00,693.31 L797.20,691.59 L797.39,689.85 L797.57,688.08 L797.76,686.30 L797.94,684.51 L798.13,682.73 L798.31,680.95 L798.50,679.20 L798.52,679.32 L798.54,679.44 L798.56,679.55 L798.59,679.67 L798.61,679.78 L798.63,679.90 L798.65,680.02 L798.67,680.14 L798.69,680.27 L798.70,680.40 L798.71,680.55 L798.72,680.69 L798.73,680.83 L798.74,680.96 L798.74,681.11 L798.74,681.27 L798.74,681.45 L798.74,681.66 L798.75,681.91 L798.75,682.20 L798.78,685.74 L798.80,691.63 L798.81,699.44 L798.82,708.74 L798.82,719.10 L798.82,730.07 L798.82,741.23 L798.82,752.15 L798.82,762.39 L798.83,771.53 L798.83,779.02 L798.84,786.42 L798.84,793.73 L798.84,800.96 L798.85,808.12 L798.85,815.20 L798.86,822.22 L798.86,829.19 L798.87,836.11 L798.88,842.99 L798.88,849.30 L798.89,855.58 L798.90,861.83 L798.91,868.03 L798.92,874.17 L798.93,880.25 L798.94,886.26 L798.95,892.18 L798.96,898.00 L798.97,903.73 L798.98,908.65 L798.99,913.51 L798.99,918.31 L799.00,923.05 L799.01,927.72 L799.02,932.33 L799.03,936.88 L799.04,941.37 L799.05,945.80 L799.07,950.17 L799.07,953.96 L799.08,957.68 L799.09,961.36 L799.10,965.00 L799.11,968.58 L799.12,972.12 L799.13,975.63 L799.15,979.09 L799.16,982.51 L799.17,985.90 L799.18,988.90 L799.19,991.86 L799.21,994.77 L799.22,997.66 L799.23,1000.52 L799.24,1003.35 L799.26,1006.15 L799.27,1008.95 L799.29,1011.72 L799.31,1014.49 L799.32,1017.06 L799.34,1019.60 L799.36,1022.12 L799.38,1024.61 L799.40,1027.10 L799.42,1029.58 L799.44,1032.05 L799.46,1034.52 L799.48,1037.01 L799.50,1039.50" stroke="#7E2F8E"/>
</g>
<g font-family="'Liberation Sans', Arial, Helvetica, sans-serif" font-size="30" fill="#262626">
<text transform="translate(104.50,498.80) scale(0.9850,1.0450)" text-anchor="middle">0</text>
<text transform="translate(104.50,1077.30) scale(0.9850,1.0450)" text-anchor="middle">0</text>
<text transform="translate(277.50,498.80) scale(0.9850,1.0450)" text-anchor="middle">0.5</text>
<text transform="translate(277.50,1077.30) scale(0.9850,1.0450)" text-anchor="middle">0.5</text>
<text transform="translate(451.00,498.80) scale(0.9850,1.0450)" text-anchor="middle">1</text>
<text transform="translate(451.00,1077.30) scale(0.9850,1.0450)" text-anchor="middle">1</text>
<text transform="translate(624.50,498.80) scale(0.9850,1.0450)" text-anchor="middle">1.5</text>
<text transform="translate(624.50,1077.30) scale(0.9850,1.0450)" text-anchor="middle">1.5</text>
<text transform="translate(797.60,498.80) scale(0.9850,1.0450)" text-anchor="middle">2</text>
<text transform="translate(797.60,1077.30) scale(0.9850,1.0450)" text-anchor="middle">2</text>
<text transform="translate(971.50,498.80) scale(0.9850,1.0450)" text-anchor="middle">2.5</text>
<text transform="translate(971.50,1077.30) scale(0.9850,1.0450)" text-anchor="middle">2.5</text>
<text transform="translate(96.30,293.60) scale(0.9850,1.0450)" text-anchor="end">100</text>
<text transform="translate(96.30,111.90) scale(0.9850,1.0450)" text-anchor="end">200</text>
<text transform="translate(96.30,21.00) scale(0.9850,1.0450)" text-anchor="end">250</text>
<text transform="translate(37.30,903.90) scale(0.9850,1.0450)">10</text>
<text transform="translate(70.30,890.00) scale(0.9850,1.0450)" font-size="24">17</text>
<text transform="translate(37.30,753.90) scale(0.9850,1.0450)">10</text>
<text transform="translate(70.30,740.00) scale(0.9850,1.0450)" font-size="24">19</text>
<text transform="translate(37.30,603.50) scale(0.9850,1.0450)">10</text>
<text transform="translate(70.30,589.60) scale(0.9850,1.0450)" font-size="24">21</text>
</g>
<g font-family="'Liberation Serif', 'Times New Roman', serif" font-size="30" fill="#1a1a1a" stroke="#1a1a1a" stroke-width="0.3">
<text x="496.90" y="530.30" textLength="19.00" lengthAdjust="spacingAndGlyphs">L</text>
<text transform="translate(526.40,532.90) scale(0.6800,1.2000)">[</text>
<text x="533.00" y="530.30" textLength="37.40" lengthAdjust="spacingAndGlyphs">cm</text>
<text transform="translate(569.90,532.90) scale(0.6800,1.2000)">]</text>
<text x="496.90" y="1108.80" textLength="19.00" lengthAdjust="spacingAndGlyphs">L</text>
<text transform="translate(526.40,1111.40) scale(0.6800,1.2000)">[</text>
<text x="533.00" y="1108.80" textLength="37.40" lengthAdjust="spacingAndGlyphs">cm</text>
<text transform="translate(569.90,1111.40) scale(0.6800,1.2000)">]</text>
<g transform="translate(34.6,313) rotate(-90)">
<text x="0.00" y="0.00" textLength="19.30" lengthAdjust="spacingAndGlyphs">E</text>
<text transform="translate(29.70,2.00) scale(0.6800,1.2000)">[</text>
<text x="37.30" y="0.00" textLength="37.60" lengthAdjust="spacingAndGlyphs">kV</text>
<text x="83.80" y="0.00" textLength="37.40" lengthAdjust="spacingAndGlyphs">cm</text>
<text x="122.60" y="-10.80" font-size="21" textLength="13.50" lengthAdjust="spacingAndGlyphs">−</text>
<text x="136.80" y="-10.80" font-size="21">1</text>
<text transform="translate(148.50,2.00) scale(0.6800,1.2000)">]</text>
</g>
<g transform="translate(23.9,865.5) rotate(-90)">
<text x="0.00" y="0.00" textLength="14.50" lengthAdjust="spacingAndGlyphs">n</text>
<text x="15.80" y="4.60" font-size="21" font-style="italic">e</text>
<text transform="translate(37.80,2.00) scale(0.6800,1.2000)">[</text>
<text x="45.20" y="0.00" textLength="24.60" lengthAdjust="spacingAndGlyphs">m</text>
<text x="70.20" y="-9.60" font-size="21" textLength="13.50" lengthAdjust="spacingAndGlyphs">−</text>
<text x="84.30" y="-9.60" font-size="21">3</text>
<text transform="translate(96.80,2.00) scale(0.6800,1.2000)">]</text>
</g>
</g>
<g stroke-width="2.1" fill="none">
<line x1="848.1" y1="613.80" x2="877.7" y2="613.80" stroke="#0072BD"/>
<line x1="848.1" y1="649.20" x2="877.7" y2="649.20" stroke="#D95319"/>
<line x1="848.1" y1="684.60" x2="877.7" y2="684.60" stroke="#EDB120"/>
<line x1="848.1" y1="720.00" x2="877.7" y2="720.00" stroke="#7E2F8E"/>
<line x1="848.1" y1="755.40" x2="877.7" y2="755.40" stroke="#77AC30"/>
<line x1="848.1" y1="790.80" x2="877.7" y2="790.80" stroke="#4DBEEE"/>
<line x1="848.1" y1="826.20" x2="877.7" y2="826.20" stroke="#A2142F"/>
<line x1="848.1" y1="861.60" x2="877.7" y2="861.60" stroke="#0072BD"/>
<line x1="848.1" y1="897.00" x2="877.7" y2="897.00" stroke="#D95319"/>
<line x1="848.1" y1="932.40" x2="877.7" y2="932.40" stroke="#EDB120"/>
<line x1="848.1" y1="967.80" x2="877.7" y2="967.80" stroke="#7E2F8E"/>
</g>
<g font-family="'Liberation Serif', 'Times New Roman', serif" font-size="30" fill="#000" stroke="#000" stroke-width="0.3">
<text x="879.50" y="621.50" textLength="67.10" lengthAdjust="spacingAndGlyphs">25 ns</text>
<text x="879.50" y="656.90" textLength="67.10" lengthAdjust="spacingAndGlyphs">50 ns</text>
<text x="879.50" y="692.30" textLength="67.10" lengthAdjust="spacingAndGlyphs">75 ns</text>
<text x="878.60" y="727.70" textLength="82.30" lengthAdjust="spacingAndGlyphs">100 ns</text>
<text x="878.60" y="763.10" textLength="82.30" lengthAdjust="spacingAndGlyphs">125 ns</text>
<text x="878.60" y="798.50" textLength="82.30" lengthAdjust="spacingAndGlyphs">150 ns</text>
<text x="878.60" y="833.90" textLength="82.30" lengthAdjust="spacingAndGlyphs">175 ns</text>
<text x="879.50" y="869.30" textLength="81.40" lengthAdjust="spacingAndGlyphs">200 ns</text>
<text x="879.50" y="904.70" textLength="81.40" lengthAdjust="spacingAndGlyphs">225 ns</text>
<text x="879.50" y="940.10" textLength="81.40" lengthAdjust="spacingAndGlyphs">250 ns</text>
<text x="879.50" y="975.50" textLength="81.40" lengthAdjust="spacingAndGlyphs">300 ns</text>
</g>
</svg>
</body></html>
